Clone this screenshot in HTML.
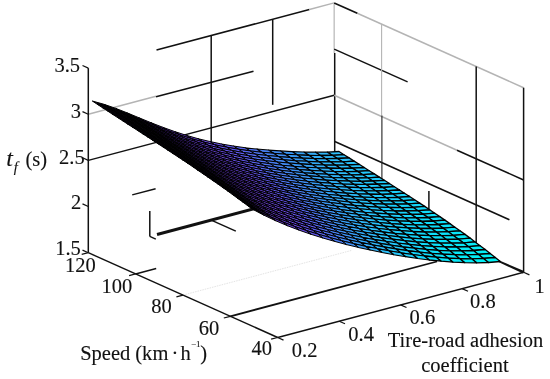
<!DOCTYPE html>
<html><head><meta charset="utf-8"><title>tf surface</title>
<style>html,body{margin:0;padding:0;background:#fff;}svg{display:block;}</style></head>
<body><svg width="550" height="379" viewBox="0 0 550 379" font-family="'Liberation Serif', serif" fill="#111" stroke-linecap="butt">
<style>text{stroke:#111;stroke-width:0.12px;}</style>
<line x1="156.5" y1="50.0" x2="309.4" y2="9.5" stroke="#111" stroke-width="1.5" />
<line x1="309.4" y1="9.5" x2="334.2" y2="2.9" stroke="#b4b4b4" stroke-width="1.5" />
<line x1="88.3" y1="114.2" x2="156.0" y2="96.3" stroke="#b4b4b4" stroke-width="1.5" />
<line x1="156.0" y1="96.7" x2="253.5" y2="71.2" stroke="#111" stroke-width="1.5" />
<line x1="88.3" y1="160.4" x2="334.2" y2="95.2" stroke="#111" stroke-width="1.5" />
<line x1="132.2" y1="194.9" x2="155.6" y2="188.7" stroke="#111" stroke-width="1.5" />
<line x1="157.0" y1="234.5" x2="256.0" y2="208.2" stroke="#111" stroke-width="2.9" />
<line x1="149.8" y1="211.0" x2="149.8" y2="236.4" stroke="#111" stroke-width="1.5" />
<line x1="149.8" y1="236.4" x2="155.8" y2="239.1" stroke="#111" stroke-width="1.5" />
<line x1="211.2" y1="35.5" x2="211.2" y2="150.0" stroke="#111" stroke-width="1.5" />
<line x1="211.2" y1="220.1" x2="235.8" y2="231.1" stroke="#111" stroke-width="1.5" />
<line x1="272.7" y1="19.2" x2="272.7" y2="104.8" stroke="#111" stroke-width="1.5" />
<line x1="334.2" y1="2.9" x2="334.2" y2="53.0" stroke="#c4c4c4" stroke-width="1.5" />
<line x1="334.7" y1="53.0" x2="334.7" y2="160.0" stroke="#111" stroke-width="1.5" />
<line x1="357.3" y1="13.2" x2="523.6" y2="87.7" stroke="#b4b4b4" stroke-width="1.5" />
<line x1="334.2" y1="2.9" x2="357.3" y2="13.2" stroke="#111" stroke-width="1.6" />
<line x1="334.2" y1="49.1" x2="407.6" y2="81.9" stroke="#111" stroke-width="1.5" />
<line x1="334.2" y1="95.2" x2="457.0" y2="150.2" stroke="#b4b4b4" stroke-width="1.5" />
<line x1="457.0" y1="150.2" x2="523.6" y2="180.0" stroke="#111" stroke-width="1.5" />
<line x1="334.2" y1="141.3" x2="509.4" y2="219.8" stroke="#111" stroke-width="1.6" />
<polygon points="493.7,259.8 523.1,273.5 524.1,271.1 494.3,258.3" fill="#111"/>
<line x1="381.6" y1="24.1" x2="381.6" y2="115.5" stroke="#b4b4b4" stroke-width="1.1" />
<line x1="381.9" y1="115.5" x2="381.9" y2="185.0" stroke="#222" stroke-width="1.1" />
<line x1="428.9" y1="191.0" x2="428.9" y2="215.0" stroke="#111" stroke-width="1.5" />
<line x1="476.2" y1="66.5" x2="476.2" y2="245.0" stroke="#111" stroke-width="1.5" />
<line x1="523.6" y1="87.7" x2="523.6" y2="272.3" stroke="#111" stroke-width="1.5" />
<line x1="230.3" y1="316.3" x2="437.0" y2="261.5" stroke="#111" stroke-width="1.75" />
<line x1="183.0" y1="295.1" x2="352.0" y2="250.3" stroke="#e4e4e4" stroke-width="1.0" stroke-dasharray="1.5 1"/>
<line x1="135.6" y1="273.9" x2="156.2" y2="268.5" stroke="#111" stroke-width="1.5" />
<g stroke="#000" stroke-linejoin="round"><path d="M327.3 152.1 L339.0 151.5 L344.0 154.7 L332.3 155.3Z" fill="rgb(45,189,249)" stroke-width="1.30"/><path d="M315.5 152.2 L327.3 152.1 L332.3 155.3 L320.5 155.5Z" fill="rgb(47,181,248)" stroke-width="1.26"/><path d="M303.8 152.0 L315.5 152.2 L320.5 155.5 L308.8 155.3Z" fill="rgb(50,171,247)" stroke-width="1.21"/><path d="M292.0 151.6 L303.8 152.0 L308.8 155.3 L297.0 154.8Z" fill="rgb(53,161,245)" stroke-width="1.17"/><path d="M280.3 150.9 L292.0 151.6 L297.0 154.8 L285.3 154.2Z" fill="rgb(58,151,244)" stroke-width="1.13"/><path d="M268.5 150.1 L280.3 150.9 L285.3 154.2 L273.5 153.3Z" fill="rgb(65,139,243)" stroke-width="1.10"/><path d="M256.8 149.0 L268.5 150.1 L273.5 153.3 L261.8 152.3Z" fill="rgb(72,128,242)" stroke-width="1.05"/><path d="M245.0 147.7 L256.8 149.0 L261.8 152.3 L250.0 150.9Z" fill="rgb(79,115,241)" stroke-width="1.01"/><path d="M233.3 146.0 L245.0 147.7 L250.0 150.9 L238.3 149.2Z" fill="rgb(88,100,239)" stroke-width="1.00"/><path d="M221.5 144.0 L233.3 146.0 L238.3 149.2 L226.5 147.2Z" fill="rgb(96,86,236)" stroke-width="1.00"/><path d="M209.8 141.5 L221.5 144.0 L226.5 147.2 L214.8 144.8Z" fill="rgb(103,78,231)" stroke-width="1.00"/><path d="M198.0 138.7 L209.8 141.5 L214.8 144.8 L203.0 141.9Z" fill="rgb(107,70,224)" stroke-width="1.00"/><path d="M186.3 135.3 L198.0 138.7 L203.0 141.9 L191.3 138.6Z" fill="rgb(104,63,212)" stroke-width="1.00"/><path d="M174.5 131.5 L186.3 135.3 L191.3 138.6 L179.5 134.8Z" fill="rgb(99,56,199)" stroke-width="1.00"/><path d="M162.8 127.3 L174.5 131.5 L179.5 134.8 L167.8 130.6Z" fill="rgb(95,51,188)" stroke-width="1.00"/><path d="M151.0 122.7 L162.8 127.3 L167.8 130.6 L156.0 126.0Z" fill="rgb(71,37,143)" stroke-width="1.00"/><path d="M139.3 117.9 L151.0 122.7 L156.0 126.0 L144.3 121.3Z" fill="rgb(43,21,87)" stroke-width="1.00"/><path d="M127.5 113.0 L139.3 117.9 L144.3 121.3 L132.5 116.4Z" fill="rgb(17,8,35)" stroke-width="1.00"/><path d="M115.8 108.4 L127.5 113.0 L132.5 116.4 L120.8 111.8Z" fill="rgb(7,3,16)" stroke-width="1.00"/><path d="M104.0 104.3 L115.8 108.4 L120.8 111.8 L109.0 107.6Z" fill="rgb(7,3,15)" stroke-width="1.00"/><path d="M92.3 101.0 L104.0 104.3 L109.0 107.6 L97.3 104.3Z" fill="rgb(6,2,14)" stroke-width="1.00"/><path d="M332.3 155.3 L344.0 154.7 L349.1 157.9 L337.3 158.5Z" fill="rgb(43,191,250)" stroke-width="1.30"/><path d="M320.5 155.5 L332.3 155.3 L337.3 158.5 L325.6 158.7Z" fill="rgb(46,184,249)" stroke-width="1.26"/><path d="M308.8 155.3 L320.5 155.5 L325.6 158.7 L313.8 158.5Z" fill="rgb(49,174,247)" stroke-width="1.21"/><path d="M297.0 154.8 L308.8 155.3 L313.8 158.5 L302.1 158.1Z" fill="rgb(52,164,246)" stroke-width="1.17"/><path d="M285.3 154.2 L297.0 154.8 L302.1 158.1 L290.3 157.5Z" fill="rgb(57,154,244)" stroke-width="1.13"/><path d="M273.5 153.3 L285.3 154.2 L290.3 157.5 L278.6 156.6Z" fill="rgb(63,142,243)" stroke-width="1.09"/><path d="M261.8 152.3 L273.5 153.3 L278.6 156.6 L266.8 155.5Z" fill="rgb(70,130,242)" stroke-width="1.05"/><path d="M250.0 150.9 L261.8 152.3 L266.8 155.5 L255.1 154.1Z" fill="rgb(77,118,242)" stroke-width="1.00"/><path d="M238.3 149.2 L250.0 150.9 L255.1 154.1 L243.3 152.5Z" fill="rgb(86,103,240)" stroke-width="1.00"/><path d="M226.5 147.2 L238.3 149.2 L243.3 152.5 L231.6 150.4Z" fill="rgb(95,87,237)" stroke-width="1.00"/><path d="M214.8 144.8 L226.5 147.2 L231.6 150.4 L219.8 148.0Z" fill="rgb(101,79,232)" stroke-width="1.00"/><path d="M203.0 141.9 L214.8 144.8 L219.8 148.0 L208.0 145.2Z" fill="rgb(107,71,226)" stroke-width="1.00"/><path d="M191.3 138.6 L203.0 141.9 L208.0 145.2 L196.3 141.8Z" fill="rgb(105,64,214)" stroke-width="1.00"/><path d="M179.5 134.8 L191.3 138.6 L196.3 141.8 L184.5 138.1Z" fill="rgb(100,57,201)" stroke-width="1.00"/><path d="M167.8 130.6 L179.5 134.8 L184.5 138.1 L172.8 133.9Z" fill="rgb(95,51,189)" stroke-width="1.00"/><path d="M156.0 126.0 L167.8 130.6 L172.8 133.9 L161.0 129.4Z" fill="rgb(75,39,149)" stroke-width="1.00"/><path d="M144.3 121.3 L156.0 126.0 L161.0 129.4 L149.3 124.7Z" fill="rgb(45,22,92)" stroke-width="1.00"/><path d="M132.5 116.4 L144.3 121.3 L149.3 124.7 L137.5 119.9Z" fill="rgb(19,9,39)" stroke-width="1.00"/><path d="M120.8 111.8 L132.5 116.4 L137.5 119.9 L125.8 115.2Z" fill="rgb(7,3,16)" stroke-width="1.00"/><path d="M109.0 107.6 L120.8 111.8 L125.8 115.2 L114.0 111.0Z" fill="rgb(7,3,15)" stroke-width="1.00"/><path d="M97.3 104.3 L109.0 107.6 L114.0 111.0 L102.3 107.6Z" fill="rgb(7,2,14)" stroke-width="1.00"/><path d="M337.3 158.5 L349.1 157.9 L354.1 161.1 L342.4 161.8Z" fill="rgb(42,192,250)" stroke-width="1.30"/><path d="M325.6 158.7 L337.3 158.5 L342.4 161.8 L330.6 161.9Z" fill="rgb(45,187,249)" stroke-width="1.25"/><path d="M313.8 158.5 L325.6 158.7 L330.6 161.9 L318.9 161.8Z" fill="rgb(48,177,248)" stroke-width="1.20"/><path d="M302.1 158.1 L313.8 158.5 L318.9 161.8 L307.1 161.3Z" fill="rgb(51,167,246)" stroke-width="1.16"/><path d="M290.3 157.5 L302.1 158.1 L307.1 161.3 L295.3 160.7Z" fill="rgb(55,156,244)" stroke-width="1.12"/><path d="M278.6 156.6 L290.3 157.5 L295.3 160.7 L283.6 159.8Z" fill="rgb(62,145,244)" stroke-width="1.09"/><path d="M266.8 155.5 L278.6 156.6 L283.6 159.8 L271.8 158.7Z" fill="rgb(68,133,243)" stroke-width="1.04"/><path d="M255.1 154.1 L266.8 155.5 L271.8 158.7 L260.1 157.4Z" fill="rgb(76,121,242)" stroke-width="1.00"/><path d="M243.3 152.5 L255.1 154.1 L260.1 157.4 L248.3 155.7Z" fill="rgb(84,106,240)" stroke-width="1.00"/><path d="M231.6 150.4 L243.3 152.5 L248.3 155.7 L236.6 153.7Z" fill="rgb(93,90,238)" stroke-width="1.00"/><path d="M219.8 148.0 L231.6 150.4 L236.6 153.7 L224.8 151.2Z" fill="rgb(100,81,233)" stroke-width="1.00"/><path d="M208.0 145.2 L219.8 148.0 L224.8 151.2 L213.1 148.4Z" fill="rgb(107,72,228)" stroke-width="1.00"/><path d="M196.3 141.8 L208.0 145.2 L213.1 148.4 L201.3 145.1Z" fill="rgb(105,65,216)" stroke-width="1.00"/><path d="M184.5 138.1 L196.3 141.8 L201.3 145.1 L189.5 141.4Z" fill="rgb(101,58,203)" stroke-width="1.00"/><path d="M172.8 133.9 L184.5 138.1 L189.5 141.4 L177.8 137.2Z" fill="rgb(96,52,190)" stroke-width="1.00"/><path d="M161.0 129.4 L172.8 133.9 L177.8 137.2 L166.0 132.7Z" fill="rgb(78,41,156)" stroke-width="1.00"/><path d="M149.3 124.7 L161.0 129.4 L166.0 132.7 L154.3 128.0Z" fill="rgb(48,24,98)" stroke-width="1.00"/><path d="M137.5 119.9 L149.3 124.7 L154.3 128.0 L142.5 123.2Z" fill="rgb(21,10,43)" stroke-width="1.00"/><path d="M125.8 115.2 L137.5 119.9 L142.5 123.2 L130.8 118.6Z" fill="rgb(7,3,16)" stroke-width="1.00"/><path d="M114.0 111.0 L125.8 115.2 L130.8 118.6 L119.0 114.3Z" fill="rgb(7,3,15)" stroke-width="1.00"/><path d="M102.3 107.6 L114.0 111.0 L119.0 114.3 L107.3 110.8Z" fill="rgb(7,2,14)" stroke-width="1.00"/><path d="M342.4 161.8 L354.1 161.1 L359.2 164.3 L347.4 165.0Z" fill="rgb(40,194,250)" stroke-width="1.30"/><path d="M330.6 161.9 L342.4 161.8 L347.4 165.0 L335.6 165.2Z" fill="rgb(44,190,250)" stroke-width="1.25"/><path d="M318.9 161.8 L330.6 161.9 L335.6 165.2 L323.9 165.0Z" fill="rgb(47,180,248)" stroke-width="1.20"/><path d="M307.1 161.3 L318.9 161.8 L323.9 165.0 L312.1 164.6Z" fill="rgb(50,170,247)" stroke-width="1.16"/><path d="M295.3 160.7 L307.1 161.3 L312.1 164.6 L300.4 163.9Z" fill="rgb(54,159,245)" stroke-width="1.12"/><path d="M283.6 159.8 L295.3 160.7 L300.4 163.9 L288.6 163.0Z" fill="rgb(60,148,244)" stroke-width="1.08"/><path d="M271.8 158.7 L283.6 159.8 L288.6 163.0 L276.9 161.9Z" fill="rgb(67,136,243)" stroke-width="1.04"/><path d="M260.1 157.4 L271.8 158.7 L276.9 161.9 L265.1 160.6Z" fill="rgb(74,124,242)" stroke-width="1.00"/><path d="M248.3 155.7 L260.1 157.4 L265.1 160.6 L253.3 158.9Z" fill="rgb(82,109,240)" stroke-width="1.00"/><path d="M236.6 153.7 L248.3 155.7 L253.3 158.9 L241.6 156.9Z" fill="rgb(91,93,238)" stroke-width="1.00"/><path d="M224.8 151.2 L236.6 153.7 L241.6 156.9 L229.8 154.4Z" fill="rgb(99,82,234)" stroke-width="1.00"/><path d="M213.1 148.4 L224.8 151.2 L229.8 154.4 L218.1 151.6Z" fill="rgb(106,73,229)" stroke-width="1.00"/><path d="M201.3 145.1 L213.1 148.4 L218.1 151.6 L206.3 148.3Z" fill="rgb(105,66,218)" stroke-width="1.00"/><path d="M189.5 141.4 L201.3 145.1 L206.3 148.3 L194.6 144.6Z" fill="rgb(102,59,205)" stroke-width="1.00"/><path d="M177.8 137.2 L189.5 141.4 L194.6 144.6 L182.8 140.5Z" fill="rgb(97,53,192)" stroke-width="1.00"/><path d="M166.0 132.7 L177.8 137.2 L182.8 140.5 L171.0 136.1Z" fill="rgb(82,43,164)" stroke-width="1.00"/><path d="M154.3 128.0 L166.0 132.7 L171.0 136.1 L159.3 131.4Z" fill="rgb(51,26,104)" stroke-width="1.00"/><path d="M142.5 123.2 L154.3 128.0 L159.3 131.4 L147.5 126.6Z" fill="rgb(23,11,48)" stroke-width="1.00"/><path d="M130.8 118.6 L142.5 123.2 L147.5 126.6 L135.8 122.0Z" fill="rgb(7,3,16)" stroke-width="1.00"/><path d="M119.0 114.3 L130.8 118.6 L135.8 122.0 L124.0 117.7Z" fill="rgb(7,3,15)" stroke-width="1.00"/><path d="M107.3 110.8 L119.0 114.3 L124.0 117.7 L112.2 114.1Z" fill="rgb(7,2,15)" stroke-width="1.00"/><path d="M347.4 165.0 L359.2 164.3 L364.2 167.5 L352.4 168.2Z" fill="rgb(39,196,250)" stroke-width="1.30"/><path d="M335.6 165.2 L347.4 165.0 L352.4 168.2 L340.7 168.4Z" fill="rgb(43,191,250)" stroke-width="1.25"/><path d="M323.9 165.0 L335.6 165.2 L340.7 168.4 L328.9 168.2Z" fill="rgb(46,183,249)" stroke-width="1.20"/><path d="M312.1 164.6 L323.9 165.0 L328.9 168.2 L317.2 167.8Z" fill="rgb(50,173,247)" stroke-width="1.16"/><path d="M300.4 163.9 L312.1 164.6 L317.2 167.8 L305.4 167.2Z" fill="rgb(53,162,245)" stroke-width="1.12"/><path d="M288.6 163.0 L300.4 163.9 L305.4 167.2 L293.6 166.3Z" fill="rgb(58,151,244)" stroke-width="1.08"/><path d="M276.9 161.9 L288.6 163.0 L293.6 166.3 L281.9 165.2Z" fill="rgb(65,139,243)" stroke-width="1.04"/><path d="M265.1 160.6 L276.9 161.9 L281.9 165.2 L270.1 163.8Z" fill="rgb(72,126,242)" stroke-width="1.00"/><path d="M253.3 158.9 L265.1 160.6 L270.1 163.8 L258.4 162.1Z" fill="rgb(80,112,241)" stroke-width="1.00"/><path d="M241.6 156.9 L253.3 158.9 L258.4 162.1 L246.6 160.1Z" fill="rgb(90,96,239)" stroke-width="1.00"/><path d="M229.8 154.4 L241.6 156.9 L246.6 160.1 L234.8 157.7Z" fill="rgb(98,84,235)" stroke-width="1.00"/><path d="M218.1 151.6 L229.8 154.4 L234.8 157.7 L223.1 154.8Z" fill="rgb(105,75,230)" stroke-width="1.00"/><path d="M206.3 148.3 L218.1 151.6 L223.1 154.8 L211.3 151.6Z" fill="rgb(106,67,220)" stroke-width="1.00"/><path d="M194.6 144.6 L206.3 148.3 L211.3 151.6 L199.6 147.9Z" fill="rgb(103,60,207)" stroke-width="1.00"/><path d="M182.8 140.5 L194.6 144.6 L199.6 147.9 L187.8 143.8Z" fill="rgb(97,54,194)" stroke-width="1.00"/><path d="M171.0 136.1 L182.8 140.5 L187.8 143.8 L176.0 139.4Z" fill="rgb(86,45,171)" stroke-width="1.00"/><path d="M159.3 131.4 L171.0 136.1 L176.0 139.4 L164.3 134.8Z" fill="rgb(54,27,110)" stroke-width="1.00"/><path d="M147.5 126.6 L159.3 131.4 L164.3 134.8 L152.5 130.0Z" fill="rgb(26,12,53)" stroke-width="1.00"/><path d="M135.8 122.0 L147.5 126.6 L152.5 130.0 L140.8 125.3Z" fill="rgb(8,3,16)" stroke-width="1.00"/><path d="M124.0 117.7 L135.8 122.0 L140.8 125.3 L129.0 121.0Z" fill="rgb(7,3,15)" stroke-width="1.00"/><path d="M112.2 114.1 L124.0 117.7 L129.0 121.0 L117.2 117.3Z" fill="rgb(7,2,15)" stroke-width="1.00"/><path d="M352.4 168.2 L364.2 167.5 L369.2 170.7 L357.5 171.4Z" fill="rgb(37,197,250)" stroke-width="1.30"/><path d="M340.7 168.4 L352.4 168.2 L357.5 171.4 L345.7 171.6Z" fill="rgb(41,193,250)" stroke-width="1.26"/><path d="M328.9 168.2 L340.7 168.4 L345.7 171.6 L334.0 171.5Z" fill="rgb(45,186,249)" stroke-width="1.20"/><path d="M317.2 167.8 L328.9 168.2 L334.0 171.5 L322.2 171.0Z" fill="rgb(49,176,247)" stroke-width="1.16"/><path d="M305.4 167.2 L317.2 167.8 L322.2 171.0 L310.4 170.4Z" fill="rgb(52,165,246)" stroke-width="1.12"/><path d="M293.6 166.3 L305.4 167.2 L310.4 170.4 L298.7 169.5Z" fill="rgb(57,154,244)" stroke-width="1.08"/><path d="M281.9 165.2 L293.6 166.3 L298.7 169.5 L286.9 168.4Z" fill="rgb(63,142,243)" stroke-width="1.03"/><path d="M270.1 163.8 L281.9 165.2 L286.9 168.4 L275.1 167.0Z" fill="rgb(71,129,242)" stroke-width="1.00"/><path d="M258.4 162.1 L270.1 163.8 L275.1 167.0 L263.4 165.3Z" fill="rgb(79,116,241)" stroke-width="1.00"/><path d="M246.6 160.1 L258.4 162.1 L263.4 165.3 L251.6 163.3Z" fill="rgb(88,99,239)" stroke-width="1.00"/><path d="M234.8 157.7 L246.6 160.1 L251.6 163.3 L239.9 160.9Z" fill="rgb(97,85,236)" stroke-width="1.00"/><path d="M223.1 154.8 L234.8 157.7 L239.9 160.9 L228.1 158.0Z" fill="rgb(104,76,231)" stroke-width="1.00"/><path d="M211.3 151.6 L223.1 154.8 L228.1 158.0 L216.3 154.8Z" fill="rgb(106,68,222)" stroke-width="1.00"/><path d="M199.6 147.9 L211.3 151.6 L216.3 154.8 L204.6 151.2Z" fill="rgb(103,61,209)" stroke-width="1.00"/><path d="M187.8 143.8 L199.6 147.9 L204.6 151.2 L192.8 147.1Z" fill="rgb(98,55,196)" stroke-width="1.00"/><path d="M176.0 139.4 L187.8 143.8 L192.8 147.1 L181.0 142.7Z" fill="rgb(90,48,179)" stroke-width="1.00"/><path d="M164.3 134.8 L176.0 139.4 L181.0 142.7 L169.3 138.1Z" fill="rgb(58,29,116)" stroke-width="1.00"/><path d="M152.5 130.0 L164.3 134.8 L169.3 138.1 L157.5 133.4Z" fill="rgb(28,13,57)" stroke-width="1.00"/><path d="M140.8 125.3 L152.5 130.0 L157.5 133.4 L145.8 128.7Z" fill="rgb(8,3,16)" stroke-width="1.00"/><path d="M129.0 121.0 L140.8 125.3 L145.8 128.7 L134.0 124.3Z" fill="rgb(7,3,15)" stroke-width="1.00"/><path d="M117.2 117.3 L129.0 121.0 L134.0 124.3 L122.2 120.5Z" fill="rgb(7,2,15)" stroke-width="1.00"/><path d="M357.5 171.4 L369.2 170.7 L374.3 173.9 L362.5 174.6Z" fill="rgb(36,199,250)" stroke-width="1.30"/><path d="M345.7 171.6 L357.5 171.4 L362.5 174.6 L350.8 174.8Z" fill="rgb(40,194,250)" stroke-width="1.26"/><path d="M334.0 171.5 L345.7 171.6 L350.8 174.8 L339.0 174.7Z" fill="rgb(45,189,249)" stroke-width="1.20"/><path d="M322.2 171.0 L334.0 171.5 L339.0 174.7 L327.2 174.3Z" fill="rgb(48,179,248)" stroke-width="1.16"/><path d="M310.4 170.4 L322.2 171.0 L327.2 174.3 L315.5 173.6Z" fill="rgb(51,168,246)" stroke-width="1.12"/><path d="M298.7 169.5 L310.4 170.4 L315.5 173.6 L303.7 172.7Z" fill="rgb(55,157,244)" stroke-width="1.08"/><path d="M286.9 168.4 L298.7 169.5 L303.7 172.7 L291.9 171.6Z" fill="rgb(62,145,244)" stroke-width="1.03"/><path d="M275.1 167.0 L286.9 168.4 L291.9 171.6 L280.2 170.2Z" fill="rgb(69,132,243)" stroke-width="1.00"/><path d="M263.4 165.3 L275.1 167.0 L280.2 170.2 L268.4 168.5Z" fill="rgb(77,119,242)" stroke-width="1.00"/><path d="M251.6 163.3 L263.4 165.3 L268.4 168.5 L256.6 166.4Z" fill="rgb(86,102,239)" stroke-width="1.00"/><path d="M239.9 160.9 L251.6 163.3 L256.6 166.4 L244.9 164.1Z" fill="rgb(95,86,237)" stroke-width="1.00"/><path d="M228.1 158.0 L239.9 160.9 L244.9 164.1 L233.1 161.3Z" fill="rgb(102,78,231)" stroke-width="1.00"/><path d="M216.3 154.8 L228.1 158.0 L233.1 161.3 L221.3 158.1Z" fill="rgb(107,69,224)" stroke-width="1.00"/><path d="M204.6 151.2 L216.3 154.8 L221.3 158.1 L209.6 154.4Z" fill="rgb(104,62,211)" stroke-width="1.00"/><path d="M192.8 147.1 L204.6 151.2 L209.6 154.4 L197.8 150.4Z" fill="rgb(99,56,198)" stroke-width="1.00"/><path d="M181.0 142.7 L192.8 147.1 L197.8 150.4 L186.0 146.1Z" fill="rgb(94,50,187)" stroke-width="1.00"/><path d="M169.3 138.1 L181.0 142.7 L186.0 146.1 L174.3 141.5Z" fill="rgb(61,31,123)" stroke-width="1.00"/><path d="M157.5 133.4 L169.3 138.1 L174.3 141.5 L162.5 136.7Z" fill="rgb(31,15,63)" stroke-width="1.00"/><path d="M145.8 128.7 L157.5 133.4 L162.5 136.7 L150.7 132.1Z" fill="rgb(8,3,16)" stroke-width="1.00"/><path d="M134.0 124.3 L145.8 128.7 L150.7 132.1 L139.0 127.6Z" fill="rgb(7,3,16)" stroke-width="1.00"/><path d="M122.2 120.5 L134.0 124.3 L139.0 127.6 L127.2 123.8Z" fill="rgb(7,3,15)" stroke-width="1.00"/><path d="M362.5 174.6 L374.3 173.9 L379.3 177.1 L367.6 177.8Z" fill="rgb(34,200,250)" stroke-width="1.30"/><path d="M350.8 174.8 L362.5 174.6 L367.6 177.8 L355.8 178.0Z" fill="rgb(38,196,250)" stroke-width="1.26"/><path d="M339.0 174.7 L350.8 174.8 L355.8 178.0 L344.0 177.9Z" fill="rgb(43,191,250)" stroke-width="1.21"/><path d="M327.2 174.3 L339.0 174.7 L344.0 177.9 L332.3 177.5Z" fill="rgb(47,182,248)" stroke-width="1.16"/><path d="M315.5 173.6 L327.2 174.3 L332.3 177.5 L320.5 176.8Z" fill="rgb(50,171,247)" stroke-width="1.12"/><path d="M303.7 172.7 L315.5 173.6 L320.5 176.8 L308.7 175.9Z" fill="rgb(54,160,245)" stroke-width="1.07"/><path d="M291.9 171.6 L303.7 172.7 L308.7 175.9 L296.9 174.8Z" fill="rgb(60,148,244)" stroke-width="1.03"/><path d="M280.2 170.2 L291.9 171.6 L296.9 174.8 L285.2 173.4Z" fill="rgb(68,135,243)" stroke-width="1.00"/><path d="M268.4 168.5 L280.2 170.2 L285.2 173.4 L273.4 171.7Z" fill="rgb(75,121,242)" stroke-width="1.00"/><path d="M256.6 166.4 L268.4 168.5 L273.4 171.7 L261.6 169.6Z" fill="rgb(84,106,240)" stroke-width="1.00"/><path d="M244.9 164.1 L256.6 166.4 L261.6 169.6 L249.9 167.3Z" fill="rgb(94,88,238)" stroke-width="1.00"/><path d="M233.1 161.3 L244.9 164.1 L249.9 167.3 L238.1 164.5Z" fill="rgb(101,79,232)" stroke-width="1.00"/><path d="M221.3 158.1 L233.1 161.3 L238.1 164.5 L226.3 161.3Z" fill="rgb(107,71,226)" stroke-width="1.00"/><path d="M209.6 154.4 L221.3 158.1 L226.3 161.3 L214.6 157.7Z" fill="rgb(104,63,213)" stroke-width="1.00"/><path d="M197.8 150.4 L209.6 154.4 L214.6 157.7 L202.8 153.7Z" fill="rgb(100,57,200)" stroke-width="1.00"/><path d="M186.0 146.1 L197.8 150.4 L202.8 153.7 L191.0 149.4Z" fill="rgb(95,51,188)" stroke-width="1.00"/><path d="M174.3 141.5 L186.0 146.1 L191.0 149.4 L179.3 144.8Z" fill="rgb(65,33,130)" stroke-width="1.00"/><path d="M162.5 136.7 L174.3 141.5 L179.3 144.8 L167.5 140.1Z" fill="rgb(33,16,68)" stroke-width="1.00"/><path d="M150.7 132.1 L162.5 136.7 L167.5 140.1 L155.7 135.4Z" fill="rgb(8,3,16)" stroke-width="1.00"/><path d="M139.0 127.6 L150.7 132.1 L155.7 135.4 L144.0 131.0Z" fill="rgb(7,3,16)" stroke-width="1.00"/><path d="M127.2 123.8 L139.0 127.6 L144.0 131.0 L132.2 127.0Z" fill="rgb(7,3,15)" stroke-width="1.00"/><path d="M367.6 177.8 L379.3 177.1 L384.4 180.3 L372.6 181.0Z" fill="rgb(33,202,250)" stroke-width="1.30"/><path d="M355.8 178.0 L367.6 177.8 L372.6 181.0 L360.8 181.3Z" fill="rgb(37,198,250)" stroke-width="1.27"/><path d="M344.0 177.9 L355.8 178.0 L360.8 181.3 L349.1 181.1Z" fill="rgb(42,193,250)" stroke-width="1.21"/><path d="M332.3 177.5 L344.0 177.9 L349.1 181.1 L337.3 180.7Z" fill="rgb(46,185,249)" stroke-width="1.16"/><path d="M320.5 176.8 L332.3 177.5 L337.3 180.7 L325.5 180.1Z" fill="rgb(49,174,247)" stroke-width="1.12"/><path d="M308.7 175.9 L320.5 176.8 L325.5 180.1 L313.7 179.1Z" fill="rgb(53,163,245)" stroke-width="1.08"/><path d="M296.9 174.8 L308.7 175.9 L313.7 179.1 L302.0 178.0Z" fill="rgb(59,150,244)" stroke-width="1.03"/><path d="M285.2 173.4 L296.9 174.8 L302.0 178.0 L290.2 176.6Z" fill="rgb(66,138,243)" stroke-width="1.00"/><path d="M273.4 171.7 L285.2 173.4 L290.2 176.6 L278.4 174.9Z" fill="rgb(74,124,242)" stroke-width="1.00"/><path d="M261.6 169.6 L273.4 171.7 L278.4 174.9 L266.7 172.8Z" fill="rgb(82,109,240)" stroke-width="1.00"/><path d="M249.9 167.3 L261.6 169.6 L266.7 172.8 L254.9 170.5Z" fill="rgb(92,91,238)" stroke-width="1.00"/><path d="M238.1 164.5 L249.9 167.3 L254.9 170.5 L243.1 167.7Z" fill="rgb(100,81,233)" stroke-width="1.00"/><path d="M226.3 161.3 L238.1 164.5 L243.1 167.7 L231.4 164.5Z" fill="rgb(107,72,228)" stroke-width="1.00"/><path d="M214.6 157.7 L226.3 161.3 L231.4 164.5 L219.6 160.9Z" fill="rgb(105,65,215)" stroke-width="1.00"/><path d="M202.8 153.7 L214.6 157.7 L219.6 160.9 L207.8 157.0Z" fill="rgb(100,58,202)" stroke-width="1.00"/><path d="M191.0 149.4 L202.8 153.7 L207.8 157.0 L196.0 152.7Z" fill="rgb(95,51,189)" stroke-width="1.00"/><path d="M179.3 144.8 L191.0 149.4 L196.0 152.7 L184.3 148.2Z" fill="rgb(68,35,137)" stroke-width="1.00"/><path d="M167.5 140.1 L179.3 144.8 L184.3 148.2 L172.5 143.5Z" fill="rgb(36,18,73)" stroke-width="1.00"/><path d="M155.7 135.4 L167.5 140.1 L172.5 143.5 L160.7 138.8Z" fill="rgb(8,3,16)" stroke-width="1.00"/><path d="M144.0 131.0 L155.7 135.4 L160.7 138.8 L149.0 134.3Z" fill="rgb(7,3,16)" stroke-width="1.00"/><path d="M132.2 127.0 L144.0 131.0 L149.0 134.3 L137.2 130.2Z" fill="rgb(7,3,15)" stroke-width="1.00"/><path d="M372.6 181.0 L384.4 180.3 L389.4 183.5 L377.6 184.2Z" fill="rgb(32,203,250)" stroke-width="1.30"/><path d="M360.8 181.3 L372.6 181.0 L377.6 184.2 L365.9 184.5Z" fill="rgb(35,199,250)" stroke-width="1.27"/><path d="M349.1 181.1 L360.8 181.3 L365.9 184.5 L354.1 184.4Z" fill="rgb(40,194,250)" stroke-width="1.21"/><path d="M337.3 180.7 L349.1 181.1 L354.1 184.4 L342.3 184.0Z" fill="rgb(45,188,249)" stroke-width="1.16"/><path d="M325.5 180.1 L337.3 180.7 L342.3 184.0 L330.5 183.3Z" fill="rgb(48,177,248)" stroke-width="1.12"/><path d="M313.7 179.1 L325.5 180.1 L330.5 183.3 L318.8 182.4Z" fill="rgb(52,166,246)" stroke-width="1.08"/><path d="M302.0 178.0 L313.7 179.1 L318.8 182.4 L307.0 181.2Z" fill="rgb(57,153,244)" stroke-width="1.03"/><path d="M290.2 176.6 L302.0 178.0 L307.0 181.2 L295.2 179.8Z" fill="rgb(64,141,243)" stroke-width="1.00"/><path d="M278.4 174.9 L290.2 176.6 L295.2 179.8 L283.4 178.1Z" fill="rgb(72,127,242)" stroke-width="1.00"/><path d="M266.7 172.8 L278.4 174.9 L283.4 178.1 L271.7 176.0Z" fill="rgb(81,112,241)" stroke-width="1.00"/><path d="M254.9 170.5 L266.7 172.8 L271.7 176.0 L259.9 173.7Z" fill="rgb(91,95,238)" stroke-width="1.00"/><path d="M243.1 167.7 L254.9 170.5 L259.9 173.7 L248.1 170.9Z" fill="rgb(99,82,234)" stroke-width="1.00"/><path d="M231.4 164.5 L243.1 167.7 L248.1 170.9 L236.4 167.8Z" fill="rgb(106,73,229)" stroke-width="1.00"/><path d="M219.6 160.9 L231.4 164.5 L236.4 167.8 L224.6 164.2Z" fill="rgb(105,66,217)" stroke-width="1.00"/><path d="M207.8 157.0 L219.6 160.9 L224.6 164.2 L212.8 160.3Z" fill="rgb(101,59,204)" stroke-width="1.00"/><path d="M196.0 152.7 L207.8 157.0 L212.8 160.3 L201.0 156.0Z" fill="rgb(96,52,190)" stroke-width="1.00"/><path d="M184.3 148.2 L196.0 152.7 L201.0 156.0 L189.3 151.5Z" fill="rgb(72,38,145)" stroke-width="1.00"/><path d="M172.5 143.5 L184.3 148.2 L189.3 151.5 L177.5 146.8Z" fill="rgb(39,19,79)" stroke-width="1.00"/><path d="M160.7 138.8 L172.5 143.5 L177.5 146.8 L165.7 142.1Z" fill="rgb(9,4,19)" stroke-width="1.00"/><path d="M149.0 134.3 L160.7 138.8 L165.7 142.1 L153.9 137.6Z" fill="rgb(7,3,16)" stroke-width="1.00"/><path d="M137.2 130.2 L149.0 134.3 L153.9 137.6 L142.2 133.5Z" fill="rgb(7,3,15)" stroke-width="1.00"/><path d="M377.6 184.2 L389.4 183.5 L394.4 186.7 L382.7 187.5Z" fill="rgb(30,205,250)" stroke-width="1.30"/><path d="M365.9 184.5 L377.6 184.2 L382.7 187.5 L370.9 187.7Z" fill="rgb(34,201,250)" stroke-width="1.28"/><path d="M354.1 184.4 L365.9 184.5 L370.9 187.7 L359.1 187.6Z" fill="rgb(39,196,250)" stroke-width="1.22"/><path d="M342.3 184.0 L354.1 184.4 L359.1 187.6 L347.3 187.2Z" fill="rgb(44,190,250)" stroke-width="1.17"/><path d="M330.5 183.3 L342.3 184.0 L347.3 187.2 L335.6 186.5Z" fill="rgb(47,180,248)" stroke-width="1.12"/><path d="M318.8 182.4 L330.5 183.3 L335.6 186.5 L323.8 185.6Z" fill="rgb(51,169,246)" stroke-width="1.08"/><path d="M307.0 181.2 L318.8 182.4 L323.8 185.6 L312.0 184.4Z" fill="rgb(55,156,244)" stroke-width="1.03"/><path d="M295.2 179.8 L307.0 181.2 L312.0 184.4 L300.2 183.0Z" fill="rgb(63,143,243)" stroke-width="1.00"/><path d="M283.4 178.1 L295.2 179.8 L300.2 183.0 L288.5 181.3Z" fill="rgb(70,130,242)" stroke-width="1.00"/><path d="M271.7 176.0 L283.4 178.1 L288.5 181.3 L276.7 179.3Z" fill="rgb(79,115,241)" stroke-width="1.00"/><path d="M259.9 173.7 L271.7 176.0 L276.7 179.3 L264.9 176.9Z" fill="rgb(89,98,239)" stroke-width="1.00"/><path d="M248.1 170.9 L259.9 173.7 L264.9 176.9 L253.1 174.1Z" fill="rgb(98,84,235)" stroke-width="1.00"/><path d="M236.4 167.8 L248.1 170.9 L253.1 174.1 L241.4 171.0Z" fill="rgb(105,75,229)" stroke-width="1.00"/><path d="M224.6 164.2 L236.4 167.8 L241.4 171.0 L229.6 167.5Z" fill="rgb(106,67,219)" stroke-width="1.00"/><path d="M212.8 160.3 L224.6 164.2 L229.6 167.5 L217.8 163.6Z" fill="rgb(102,60,206)" stroke-width="1.00"/><path d="M201.0 156.0 L212.8 160.3 L217.8 163.6 L206.0 159.4Z" fill="rgb(97,53,192)" stroke-width="1.00"/><path d="M189.3 151.5 L201.0 156.0 L206.0 159.4 L194.3 154.9Z" fill="rgb(76,40,153)" stroke-width="1.00"/><path d="M177.5 146.8 L189.3 151.5 L194.3 154.9 L182.5 150.2Z" fill="rgb(42,21,86)" stroke-width="1.00"/><path d="M165.7 142.1 L177.5 146.8 L182.5 150.2 L170.7 145.5Z" fill="rgb(11,5,23)" stroke-width="1.00"/><path d="M153.9 137.6 L165.7 142.1 L170.7 145.5 L158.9 140.9Z" fill="rgb(7,3,16)" stroke-width="1.00"/><path d="M142.2 133.5 L153.9 137.6 L158.9 140.9 L147.2 136.7Z" fill="rgb(7,3,15)" stroke-width="1.00"/><path d="M382.7 187.5 L394.4 186.7 L399.5 190.0 L387.7 190.7Z" fill="rgb(29,207,250)" stroke-width="1.30"/><path d="M370.9 187.7 L382.7 187.5 L387.7 190.7 L375.9 191.0Z" fill="rgb(32,202,250)" stroke-width="1.28"/><path d="M359.1 187.6 L370.9 187.7 L375.9 191.0 L364.2 190.9Z" fill="rgb(37,197,250)" stroke-width="1.22"/><path d="M347.3 187.2 L359.1 187.6 L364.2 190.9 L352.4 190.5Z" fill="rgb(42,192,250)" stroke-width="1.17"/><path d="M335.6 186.5 L347.3 187.2 L352.4 190.5 L340.6 189.8Z" fill="rgb(46,183,249)" stroke-width="1.13"/><path d="M323.8 185.6 L335.6 186.5 L340.6 189.8 L328.8 188.9Z" fill="rgb(50,172,247)" stroke-width="1.08"/><path d="M312.0 184.4 L323.8 185.6 L328.8 188.9 L317.0 187.7Z" fill="rgb(54,159,245)" stroke-width="1.04"/><path d="M300.2 183.0 L312.0 184.4 L317.0 187.7 L305.3 186.2Z" fill="rgb(61,146,244)" stroke-width="1.00"/><path d="M288.5 181.3 L300.2 183.0 L305.3 186.2 L293.5 184.5Z" fill="rgb(69,133,243)" stroke-width="1.00"/><path d="M276.7 179.3 L288.5 181.3 L293.5 184.5 L281.7 182.5Z" fill="rgb(77,118,242)" stroke-width="1.00"/><path d="M264.9 176.9 L276.7 179.3 L281.7 182.5 L269.9 180.1Z" fill="rgb(87,101,239)" stroke-width="1.00"/><path d="M253.1 174.1 L264.9 176.9 L269.9 180.1 L258.2 177.4Z" fill="rgb(96,85,236)" stroke-width="1.00"/><path d="M241.4 171.0 L253.1 174.1 L258.2 177.4 L246.4 174.3Z" fill="rgb(104,76,230)" stroke-width="1.00"/><path d="M229.6 167.5 L241.4 171.0 L246.4 174.3 L234.6 170.8Z" fill="rgb(106,68,221)" stroke-width="1.00"/><path d="M217.8 163.6 L229.6 167.5 L234.6 170.8 L222.8 166.9Z" fill="rgb(103,61,208)" stroke-width="1.00"/><path d="M206.0 159.4 L217.8 163.6 L222.8 166.9 L211.0 162.7Z" fill="rgb(97,54,194)" stroke-width="1.00"/><path d="M194.3 154.9 L206.0 159.4 L211.0 162.7 L199.3 158.2Z" fill="rgb(81,43,161)" stroke-width="1.00"/><path d="M182.5 150.2 L194.3 154.9 L199.3 158.2 L187.5 153.6Z" fill="rgb(46,23,92)" stroke-width="1.00"/><path d="M170.7 145.5 L182.5 150.2 L187.5 153.6 L175.7 148.9Z" fill="rgb(13,6,28)" stroke-width="1.00"/><path d="M158.9 140.9 L170.7 145.5 L175.7 148.9 L163.9 144.2Z" fill="rgb(8,3,16)" stroke-width="1.00"/><path d="M147.2 136.7 L158.9 140.9 L163.9 144.2 L152.1 139.9Z" fill="rgb(7,3,15)" stroke-width="1.00"/><path d="M387.7 190.7 L399.5 190.0 L404.5 193.2 L392.7 194.0Z" fill="rgb(27,208,250)" stroke-width="1.30"/><path d="M375.9 191.0 L387.7 190.7 L392.7 194.0 L381.0 194.3Z" fill="rgb(31,204,250)" stroke-width="1.29"/><path d="M364.2 190.9 L375.9 191.0 L381.0 194.3 L369.2 194.2Z" fill="rgb(35,199,250)" stroke-width="1.23"/><path d="M352.4 190.5 L364.2 190.9 L369.2 194.2 L357.4 193.8Z" fill="rgb(41,194,250)" stroke-width="1.18"/><path d="M340.6 189.8 L352.4 190.5 L357.4 193.8 L345.6 193.1Z" fill="rgb(45,186,249)" stroke-width="1.13"/><path d="M328.8 188.9 L340.6 189.8 L345.6 193.1 L333.8 192.1Z" fill="rgb(49,175,247)" stroke-width="1.09"/><path d="M317.0 187.7 L328.8 188.9 L333.8 192.1 L322.1 190.9Z" fill="rgb(53,162,245)" stroke-width="1.04"/><path d="M305.3 186.2 L317.0 187.7 L322.1 190.9 L310.3 189.5Z" fill="rgb(59,149,244)" stroke-width="1.00"/><path d="M293.5 184.5 L305.3 186.2 L310.3 189.5 L298.5 187.7Z" fill="rgb(67,136,243)" stroke-width="1.00"/><path d="M281.7 182.5 L293.5 184.5 L298.5 187.7 L286.7 185.7Z" fill="rgb(75,121,242)" stroke-width="1.00"/><path d="M269.9 180.1 L281.7 182.5 L286.7 185.7 L274.9 183.3Z" fill="rgb(85,104,240)" stroke-width="1.00"/><path d="M258.2 177.4 L269.9 180.1 L274.9 183.3 L263.2 180.6Z" fill="rgb(95,87,237)" stroke-width="1.00"/><path d="M246.4 174.3 L258.2 177.4 L263.2 180.6 L251.4 177.5Z" fill="rgb(102,78,231)" stroke-width="1.00"/><path d="M234.6 170.8 L246.4 174.3 L251.4 177.5 L239.6 174.1Z" fill="rgb(107,69,223)" stroke-width="1.00"/><path d="M222.8 166.9 L234.6 170.8 L239.6 174.1 L227.8 170.2Z" fill="rgb(104,62,210)" stroke-width="1.00"/><path d="M211.0 162.7 L222.8 166.9 L227.8 170.2 L216.0 166.1Z" fill="rgb(98,55,196)" stroke-width="1.00"/><path d="M199.3 158.2 L211.0 162.7 L216.0 166.1 L204.3 161.6Z" fill="rgb(85,45,170)" stroke-width="1.00"/><path d="M187.5 153.6 L199.3 158.2 L204.3 161.6 L192.5 157.0Z" fill="rgb(49,25,99)" stroke-width="1.00"/><path d="M175.7 148.9 L187.5 153.6 L192.5 157.0 L180.7 152.2Z" fill="rgb(16,7,33)" stroke-width="1.00"/><path d="M163.9 144.2 L175.7 148.9 L180.7 152.2 L168.9 147.6Z" fill="rgb(8,3,16)" stroke-width="1.00"/><path d="M152.1 139.9 L163.9 144.2 L168.9 147.6 L157.1 143.2Z" fill="rgb(7,3,15)" stroke-width="1.00"/><path d="M392.7 194.0 L404.5 193.2 L409.6 196.5 L397.8 197.3Z" fill="rgb(25,210,250)" stroke-width="1.30"/><path d="M381.0 194.3 L392.7 194.0 L397.8 197.3 L386.0 197.6Z" fill="rgb(29,206,250)" stroke-width="1.30"/><path d="M369.2 194.2 L381.0 194.3 L386.0 197.6 L374.2 197.5Z" fill="rgb(34,201,250)" stroke-width="1.24"/><path d="M357.4 193.8 L369.2 194.2 L374.2 197.5 L362.4 197.1Z" fill="rgb(39,195,250)" stroke-width="1.18"/><path d="M345.6 193.1 L357.4 193.8 L362.4 197.1 L350.7 196.4Z" fill="rgb(44,190,250)" stroke-width="1.14"/><path d="M333.8 192.1 L345.6 193.1 L350.7 196.4 L338.9 195.4Z" fill="rgb(48,178,248)" stroke-width="1.09"/><path d="M322.1 190.9 L333.8 192.1 L338.9 195.4 L327.1 194.2Z" fill="rgb(52,165,246)" stroke-width="1.04"/><path d="M310.3 189.5 L322.1 190.9 L327.1 194.2 L315.3 192.7Z" fill="rgb(58,152,244)" stroke-width="1.00"/><path d="M298.5 187.7 L310.3 189.5 L315.3 192.7 L303.5 191.0Z" fill="rgb(65,139,243)" stroke-width="1.00"/><path d="M286.7 185.7 L298.5 187.7 L303.5 191.0 L291.7 189.0Z" fill="rgb(74,124,242)" stroke-width="1.00"/><path d="M274.9 183.3 L286.7 185.7 L291.7 189.0 L280.0 186.6Z" fill="rgb(83,107,240)" stroke-width="1.00"/><path d="M263.2 180.6 L274.9 183.3 L280.0 186.6 L268.2 183.9Z" fill="rgb(94,89,238)" stroke-width="1.00"/><path d="M251.4 177.5 L263.2 180.6 L268.2 183.9 L256.4 180.8Z" fill="rgb(101,79,232)" stroke-width="1.00"/><path d="M239.6 174.1 L251.4 177.5 L256.4 180.8 L244.6 177.4Z" fill="rgb(107,70,225)" stroke-width="1.00"/><path d="M227.8 170.2 L239.6 174.1 L244.6 177.4 L232.8 173.6Z" fill="rgb(104,63,212)" stroke-width="1.00"/><path d="M216.0 166.1 L227.8 170.2 L232.8 173.6 L221.0 169.4Z" fill="rgb(99,56,199)" stroke-width="1.00"/><path d="M204.3 161.6 L216.0 166.1 L221.0 169.4 L209.3 165.0Z" fill="rgb(90,48,179)" stroke-width="1.00"/><path d="M192.5 157.0 L204.3 161.6 L209.3 165.0 L197.5 160.4Z" fill="rgb(53,27,106)" stroke-width="1.00"/><path d="M180.7 152.2 L192.5 157.0 L197.5 160.4 L185.7 155.6Z" fill="rgb(18,9,38)" stroke-width="1.00"/><path d="M168.9 147.6 L180.7 152.2 L185.7 155.6 L173.9 150.9Z" fill="rgb(8,3,16)" stroke-width="1.00"/><path d="M157.1 143.2 L168.9 147.6 L173.9 150.9 L162.1 146.4Z" fill="rgb(7,3,16)" stroke-width="1.00"/><path d="M397.8 197.3 L409.6 196.5 L414.6 199.8 L402.8 200.6Z" fill="rgb(24,212,250)" stroke-width="1.30"/><path d="M386.0 197.6 L397.8 197.3 L402.8 200.6 L391.0 200.9Z" fill="rgb(28,207,250)" stroke-width="1.30"/><path d="M374.2 197.5 L386.0 197.6 L391.0 200.9 L379.3 200.8Z" fill="rgb(32,203,250)" stroke-width="1.25"/><path d="M362.4 197.1 L374.2 197.5 L379.3 200.8 L367.5 200.4Z" fill="rgb(37,197,250)" stroke-width="1.19"/><path d="M350.7 196.4 L362.4 197.1 L367.5 200.4 L355.7 199.7Z" fill="rgb(43,191,250)" stroke-width="1.14"/><path d="M338.9 195.4 L350.7 196.4 L355.7 199.7 L343.9 198.7Z" fill="rgb(47,181,248)" stroke-width="1.10"/><path d="M327.1 194.2 L338.9 195.4 L343.9 198.7 L332.1 197.5Z" fill="rgb(51,168,246)" stroke-width="1.05"/><path d="M315.3 192.7 L327.1 194.2 L332.1 197.5 L320.3 196.0Z" fill="rgb(56,155,244)" stroke-width="1.00"/><path d="M303.5 191.0 L315.3 192.7 L320.3 196.0 L308.5 194.3Z" fill="rgb(64,142,243)" stroke-width="1.00"/><path d="M291.7 189.0 L303.5 191.0 L308.5 194.3 L296.8 192.2Z" fill="rgb(72,127,242)" stroke-width="1.00"/><path d="M280.0 186.6 L291.7 189.0 L296.8 192.2 L285.0 189.9Z" fill="rgb(81,111,241)" stroke-width="1.00"/><path d="M268.2 183.9 L280.0 186.6 L285.0 189.9 L273.2 187.2Z" fill="rgb(92,92,238)" stroke-width="1.00"/><path d="M256.4 180.8 L268.2 183.9 L273.2 187.2 L261.4 184.1Z" fill="rgb(100,81,233)" stroke-width="1.00"/><path d="M244.6 177.4 L256.4 180.8 L261.4 184.1 L249.6 180.7Z" fill="rgb(107,71,227)" stroke-width="1.00"/><path d="M232.8 173.6 L244.6 177.4 L249.6 180.7 L237.8 176.9Z" fill="rgb(105,64,214)" stroke-width="1.00"/><path d="M221.0 169.4 L232.8 173.6 L237.8 176.9 L226.0 172.8Z" fill="rgb(100,57,201)" stroke-width="1.00"/><path d="M209.3 165.0 L221.0 169.4 L226.0 172.8 L214.3 168.4Z" fill="rgb(95,51,188)" stroke-width="1.00"/><path d="M197.5 160.4 L209.3 165.0 L214.3 168.4 L202.5 163.8Z" fill="rgb(56,29,113)" stroke-width="1.00"/><path d="M185.7 155.6 L197.5 160.4 L202.5 163.8 L190.7 159.0Z" fill="rgb(21,10,43)" stroke-width="1.00"/><path d="M173.9 150.9 L185.7 155.6 L190.7 159.0 L178.9 154.3Z" fill="rgb(8,3,16)" stroke-width="1.00"/><path d="M162.1 146.4 L173.9 150.9 L178.9 154.3 L167.1 149.7Z" fill="rgb(7,3,16)" stroke-width="1.00"/><path d="M402.8 200.6 L414.6 199.8 L419.7 203.1 L407.9 203.9Z" fill="rgb(22,213,250)" stroke-width="1.30"/><path d="M391.0 200.9 L402.8 200.6 L407.9 203.9 L396.1 204.2Z" fill="rgb(26,209,250)" stroke-width="1.30"/><path d="M379.3 200.8 L391.0 200.9 L396.1 204.2 L384.3 204.2Z" fill="rgb(31,204,250)" stroke-width="1.26"/><path d="M367.5 200.4 L379.3 200.8 L384.3 204.2 L372.5 203.7Z" fill="rgb(36,199,250)" stroke-width="1.20"/><path d="M355.7 199.7 L367.5 200.4 L372.5 203.7 L360.7 203.0Z" fill="rgb(41,193,250)" stroke-width="1.15"/><path d="M343.9 198.7 L355.7 199.7 L360.7 203.0 L348.9 202.0Z" fill="rgb(46,184,249)" stroke-width="1.10"/><path d="M332.1 197.5 L343.9 198.7 L348.9 202.0 L337.1 200.8Z" fill="rgb(50,172,247)" stroke-width="1.05"/><path d="M320.3 196.0 L332.1 197.5 L337.1 200.8 L325.3 199.3Z" fill="rgb(54,158,245)" stroke-width="1.01"/><path d="M308.5 194.3 L320.3 196.0 L325.3 199.3 L313.6 197.6Z" fill="rgb(62,145,244)" stroke-width="1.00"/><path d="M296.8 192.2 L308.5 194.3 L313.6 197.6 L301.8 195.5Z" fill="rgb(70,130,242)" stroke-width="1.00"/><path d="M285.0 189.9 L296.8 192.2 L301.8 195.5 L290.0 193.1Z" fill="rgb(79,114,241)" stroke-width="1.00"/><path d="M273.2 187.2 L285.0 189.9 L290.0 193.1 L278.2 190.4Z" fill="rgb(90,96,239)" stroke-width="1.00"/><path d="M261.4 184.1 L273.2 187.2 L278.2 190.4 L266.4 187.4Z" fill="rgb(99,82,234)" stroke-width="1.00"/><path d="M249.6 180.7 L261.4 184.1 L266.4 187.4 L254.6 184.0Z" fill="rgb(106,73,228)" stroke-width="1.00"/><path d="M237.8 176.9 L249.6 180.7 L254.6 184.0 L242.8 180.3Z" fill="rgb(105,65,216)" stroke-width="1.00"/><path d="M226.0 172.8 L237.8 176.9 L242.8 180.3 L231.0 176.2Z" fill="rgb(101,58,203)" stroke-width="1.00"/><path d="M214.3 168.4 L226.0 172.8 L231.0 176.2 L219.3 171.8Z" fill="rgb(95,51,189)" stroke-width="1.00"/><path d="M202.5 163.8 L214.3 168.4 L219.3 171.8 L207.5 167.2Z" fill="rgb(61,31,121)" stroke-width="1.00"/><path d="M190.7 159.0 L202.5 163.8 L207.5 167.2 L195.7 162.5Z" fill="rgb(24,12,49)" stroke-width="1.00"/><path d="M178.9 154.3 L190.7 159.0 L195.7 162.5 L183.9 157.7Z" fill="rgb(8,3,16)" stroke-width="1.00"/><path d="M167.1 149.7 L178.9 154.3 L183.9 157.7 L172.1 153.0Z" fill="rgb(7,3,16)" stroke-width="1.00"/><path d="M407.9 203.9 L419.7 203.1 L424.7 206.4 L412.9 207.3Z" fill="rgb(21,215,250)" stroke-width="1.30"/><path d="M396.1 204.2 L407.9 203.9 L412.9 207.3 L401.1 207.6Z" fill="rgb(24,211,250)" stroke-width="1.30"/><path d="M384.3 204.2 L396.1 204.2 L401.1 207.6 L389.3 207.5Z" fill="rgb(29,206,250)" stroke-width="1.27"/><path d="M372.5 203.7 L384.3 204.2 L389.3 207.5 L377.5 207.1Z" fill="rgb(34,201,250)" stroke-width="1.21"/><path d="M360.7 203.0 L372.5 203.7 L377.5 207.1 L365.7 206.4Z" fill="rgb(40,195,250)" stroke-width="1.16"/><path d="M348.9 202.0 L360.7 203.0 L365.7 206.4 L353.9 205.4Z" fill="rgb(45,188,249)" stroke-width="1.11"/><path d="M337.1 200.8 L348.9 202.0 L353.9 205.4 L342.2 204.1Z" fill="rgb(49,175,247)" stroke-width="1.06"/><path d="M325.3 199.3 L337.1 200.8 L342.2 204.1 L330.4 202.6Z" fill="rgb(53,162,245)" stroke-width="1.01"/><path d="M313.6 197.6 L325.3 199.3 L330.4 202.6 L318.6 200.9Z" fill="rgb(60,148,244)" stroke-width="1.00"/><path d="M301.8 195.5 L313.6 197.6 L318.6 200.9 L306.8 198.8Z" fill="rgb(69,133,243)" stroke-width="1.00"/><path d="M290.0 193.1 L301.8 195.5 L306.8 198.8 L295.0 196.4Z" fill="rgb(77,118,242)" stroke-width="1.00"/><path d="M278.2 190.4 L290.0 193.1 L295.0 196.4 L283.2 193.8Z" fill="rgb(88,99,239)" stroke-width="1.00"/><path d="M266.4 187.4 L278.2 190.4 L283.2 193.8 L271.4 190.7Z" fill="rgb(97,84,235)" stroke-width="1.00"/><path d="M254.6 184.0 L266.4 187.4 L271.4 190.7 L259.6 187.4Z" fill="rgb(105,75,229)" stroke-width="1.00"/><path d="M242.8 180.3 L254.6 184.0 L259.6 187.4 L247.8 183.6Z" fill="rgb(105,66,218)" stroke-width="1.00"/><path d="M231.0 176.2 L242.8 180.3 L247.8 183.6 L236.0 179.6Z" fill="rgb(102,59,205)" stroke-width="1.00"/><path d="M219.3 171.8 L231.0 176.2 L236.0 179.6 L224.2 175.2Z" fill="rgb(96,52,191)" stroke-width="1.00"/><path d="M207.5 167.2 L219.3 171.8 L224.2 175.2 L212.5 170.7Z" fill="rgb(65,34,130)" stroke-width="1.00"/><path d="M195.7 162.5 L207.5 167.2 L212.5 170.7 L200.7 165.9Z" fill="rgb(27,13,55)" stroke-width="1.00"/><path d="M183.9 157.7 L195.7 162.5 L200.7 165.9 L188.9 161.1Z" fill="rgb(8,4,17)" stroke-width="1.00"/><path d="M172.1 153.0 L183.9 157.7 L188.9 161.1 L177.1 156.3Z" fill="rgb(7,3,16)" stroke-width="1.00"/><path d="M412.9 207.3 L424.7 206.4 L429.7 209.8 L417.9 210.7Z" fill="rgb(19,217,250)" stroke-width="1.30"/><path d="M401.1 207.6 L412.9 207.3 L417.9 210.7 L406.1 211.0Z" fill="rgb(23,213,250)" stroke-width="1.30"/><path d="M389.3 207.5 L401.1 207.6 L406.1 211.0 L394.4 210.9Z" fill="rgb(27,208,250)" stroke-width="1.28"/><path d="M377.5 207.1 L389.3 207.5 L394.4 210.9 L382.6 210.5Z" fill="rgb(32,203,250)" stroke-width="1.22"/><path d="M365.7 206.4 L377.5 207.1 L382.6 210.5 L370.8 209.8Z" fill="rgb(38,197,250)" stroke-width="1.17"/><path d="M353.9 205.4 L365.7 206.4 L370.8 209.8 L359.0 208.8Z" fill="rgb(44,190,250)" stroke-width="1.12"/><path d="M342.2 204.1 L353.9 205.4 L359.0 208.8 L347.2 207.5Z" fill="rgb(48,178,248)" stroke-width="1.07"/><path d="M330.4 202.6 L342.2 204.1 L347.2 207.5 L335.4 206.0Z" fill="rgb(52,165,246)" stroke-width="1.02"/><path d="M318.6 200.9 L330.4 202.6 L335.4 206.0 L323.6 204.2Z" fill="rgb(58,151,244)" stroke-width="1.00"/><path d="M306.8 198.8 L318.6 200.9 L323.6 204.2 L311.8 202.1Z" fill="rgb(67,136,243)" stroke-width="1.00"/><path d="M295.0 196.4 L306.8 198.8 L311.8 202.1 L300.0 199.8Z" fill="rgb(76,121,242)" stroke-width="1.00"/><path d="M283.2 193.8 L295.0 196.4 L300.0 199.8 L288.2 197.1Z" fill="rgb(86,103,240)" stroke-width="1.00"/><path d="M271.4 190.7 L283.2 193.8 L288.2 197.1 L276.4 194.1Z" fill="rgb(96,86,236)" stroke-width="1.00"/><path d="M259.6 187.4 L271.4 190.7 L276.4 194.1 L264.6 190.7Z" fill="rgb(104,76,230)" stroke-width="1.00"/><path d="M247.8 183.6 L259.6 187.4 L264.6 190.7 L252.8 187.0Z" fill="rgb(106,68,221)" stroke-width="1.00"/><path d="M236.0 179.6 L247.8 183.6 L252.8 187.0 L241.0 183.0Z" fill="rgb(103,60,207)" stroke-width="1.00"/><path d="M224.2 175.2 L236.0 179.6 L241.0 183.0 L229.2 178.7Z" fill="rgb(97,53,193)" stroke-width="1.00"/><path d="M212.5 170.7 L224.2 175.2 L229.2 178.7 L217.5 174.1Z" fill="rgb(69,36,139)" stroke-width="1.00"/><path d="M200.7 165.9 L212.5 170.7 L217.5 174.1 L205.7 169.3Z" fill="rgb(30,15,61)" stroke-width="1.00"/><path d="M188.9 161.1 L200.7 165.9 L205.7 169.3 L193.9 164.5Z" fill="rgb(8,4,17)" stroke-width="1.00"/><path d="M177.1 156.3 L188.9 161.1 L193.9 164.5 L182.1 159.6Z" fill="rgb(7,3,16)" stroke-width="1.00"/><path d="M417.9 210.7 L429.7 209.8 L434.8 213.2 L423.0 214.1Z" fill="rgb(17,219,250)" stroke-width="1.30"/><path d="M406.1 211.0 L417.9 210.7 L423.0 214.1 L411.2 214.4Z" fill="rgb(21,215,250)" stroke-width="1.30"/><path d="M394.4 210.9 L406.1 211.0 L411.2 214.4 L399.4 214.3Z" fill="rgb(25,210,250)" stroke-width="1.29"/><path d="M382.6 210.5 L394.4 210.9 L399.4 214.3 L387.6 213.9Z" fill="rgb(30,204,250)" stroke-width="1.23"/><path d="M370.8 209.8 L382.6 210.5 L387.6 213.9 L375.8 213.2Z" fill="rgb(36,199,250)" stroke-width="1.18"/><path d="M359.0 208.8 L370.8 209.8 L375.8 213.2 L364.0 212.2Z" fill="rgb(42,192,250)" stroke-width="1.13"/><path d="M347.2 207.5 L359.0 208.8 L364.0 212.2 L352.2 210.9Z" fill="rgb(47,182,248)" stroke-width="1.08"/><path d="M335.4 206.0 L347.2 207.5 L352.2 210.9 L340.4 209.4Z" fill="rgb(51,168,246)" stroke-width="1.03"/><path d="M323.6 204.2 L335.4 206.0 L340.4 209.4 L328.6 207.6Z" fill="rgb(56,154,244)" stroke-width="1.00"/><path d="M311.8 202.1 L323.6 204.2 L328.6 207.6 L316.8 205.5Z" fill="rgb(65,139,243)" stroke-width="1.00"/><path d="M300.0 199.8 L311.8 202.1 L316.8 205.5 L305.0 203.1Z" fill="rgb(74,124,242)" stroke-width="1.00"/><path d="M288.2 197.1 L300.0 199.8 L305.0 203.1 L293.2 200.5Z" fill="rgb(84,106,240)" stroke-width="1.00"/><path d="M276.4 194.1 L288.2 197.1 L293.2 200.5 L281.4 197.5Z" fill="rgb(95,87,237)" stroke-width="1.00"/><path d="M264.6 190.7 L276.4 194.1 L281.4 197.5 L269.6 194.1Z" fill="rgb(102,78,232)" stroke-width="1.00"/><path d="M252.8 187.0 L264.6 190.7 L269.6 194.1 L257.8 190.5Z" fill="rgb(106,69,223)" stroke-width="1.00"/><path d="M241.0 183.0 L252.8 187.0 L257.8 190.5 L246.0 186.5Z" fill="rgb(103,61,209)" stroke-width="1.00"/><path d="M229.2 178.7 L241.0 183.0 L246.0 186.5 L234.2 182.2Z" fill="rgb(98,55,196)" stroke-width="1.00"/><path d="M217.5 174.1 L229.2 178.7 L234.2 182.2 L222.4 177.6Z" fill="rgb(74,39,148)" stroke-width="1.00"/><path d="M205.7 169.3 L217.5 174.1 L222.4 177.6 L210.7 172.8Z" fill="rgb(34,17,68)" stroke-width="1.00"/><path d="M193.9 164.5 L205.7 169.3 L210.7 172.8 L198.9 167.9Z" fill="rgb(8,4,17)" stroke-width="1.00"/><path d="M182.1 159.6 L193.9 164.5 L198.9 167.9 L187.1 162.9Z" fill="rgb(8,3,16)" stroke-width="1.00"/><path d="M423.0 214.1 L434.8 213.2 L439.8 216.6 L428.0 217.5Z" fill="rgb(15,221,250)" stroke-width="1.30"/><path d="M411.2 214.4 L423.0 214.1 L428.0 217.5 L416.2 217.9Z" fill="rgb(19,217,250)" stroke-width="1.30"/><path d="M399.4 214.3 L411.2 214.4 L416.2 217.9 L404.4 217.8Z" fill="rgb(24,212,250)" stroke-width="1.30"/><path d="M387.6 213.9 L399.4 214.3 L404.4 217.8 L392.6 217.4Z" fill="rgb(29,206,250)" stroke-width="1.24"/><path d="M375.8 213.2 L387.6 213.9 L392.6 217.4 L380.8 216.6Z" fill="rgb(34,200,250)" stroke-width="1.19"/><path d="M364.0 212.2 L375.8 213.2 L380.8 216.6 L369.0 215.6Z" fill="rgb(40,194,250)" stroke-width="1.14"/><path d="M352.2 210.9 L364.0 212.2 L369.0 215.6 L357.2 214.3Z" fill="rgb(46,185,249)" stroke-width="1.09"/><path d="M340.4 209.4 L352.2 210.9 L357.2 214.3 L345.4 212.8Z" fill="rgb(50,172,247)" stroke-width="1.04"/><path d="M328.6 207.6 L340.4 209.4 L345.4 212.8 L333.6 210.9Z" fill="rgb(55,157,244)" stroke-width="1.00"/><path d="M316.8 205.5 L328.6 207.6 L333.6 210.9 L321.8 208.9Z" fill="rgb(63,143,243)" stroke-width="1.00"/><path d="M305.0 203.1 L316.8 205.5 L321.8 208.9 L310.0 206.5Z" fill="rgb(72,127,242)" stroke-width="1.00"/><path d="M293.2 200.5 L305.0 203.1 L310.0 206.5 L298.2 203.9Z" fill="rgb(82,110,241)" stroke-width="1.00"/><path d="M281.4 197.5 L293.2 200.5 L298.2 203.9 L286.4 200.9Z" fill="rgb(93,91,238)" stroke-width="1.00"/><path d="M269.6 194.1 L281.4 197.5 L286.4 200.9 L274.6 197.6Z" fill="rgb(101,80,233)" stroke-width="1.00"/><path d="M257.8 190.5 L269.6 194.1 L274.6 197.6 L262.8 193.9Z" fill="rgb(107,70,225)" stroke-width="1.00"/><path d="M246.0 186.5 L257.8 190.5 L262.8 193.9 L251.0 190.0Z" fill="rgb(104,63,212)" stroke-width="1.00"/><path d="M234.2 182.2 L246.0 186.5 L251.0 190.0 L239.2 185.7Z" fill="rgb(99,56,198)" stroke-width="1.00"/><path d="M222.4 177.6 L234.2 182.2 L239.2 185.7 L227.4 181.1Z" fill="rgb(79,42,158)" stroke-width="1.00"/><path d="M210.7 172.8 L222.4 177.6 L227.4 181.1 L215.6 176.3Z" fill="rgb(37,19,75)" stroke-width="1.00"/><path d="M198.9 167.9 L210.7 172.8 L215.6 176.3 L203.8 171.3Z" fill="rgb(8,4,17)" stroke-width="1.00"/><path d="M187.1 162.9 L198.9 167.9 L203.8 171.3 L192.1 166.3Z" fill="rgb(8,3,16)" stroke-width="1.00"/><path d="M428.0 217.5 L439.8 216.6 L444.9 220.1 L433.1 221.0Z" fill="rgb(14,222,249)" stroke-width="1.30"/><path d="M416.2 217.9 L428.0 217.5 L433.1 221.0 L421.3 221.4Z" fill="rgb(17,219,250)" stroke-width="1.30"/><path d="M404.4 217.8 L416.2 217.9 L421.3 221.4 L409.5 221.3Z" fill="rgb(22,214,250)" stroke-width="1.30"/><path d="M392.6 217.4 L404.4 217.8 L409.5 221.3 L397.7 220.8Z" fill="rgb(27,208,250)" stroke-width="1.25"/><path d="M380.8 216.6 L392.6 217.4 L397.7 220.8 L385.8 220.1Z" fill="rgb(32,202,250)" stroke-width="1.20"/><path d="M369.0 215.6 L380.8 216.6 L385.8 220.1 L374.0 219.0Z" fill="rgb(38,196,250)" stroke-width="1.15"/><path d="M357.2 214.3 L369.0 215.6 L374.0 219.0 L362.2 217.7Z" fill="rgb(45,189,249)" stroke-width="1.10"/><path d="M345.4 212.8 L357.2 214.3 L362.2 217.7 L350.4 216.2Z" fill="rgb(49,175,247)" stroke-width="1.05"/><path d="M333.6 210.9 L345.4 212.8 L350.4 216.2 L338.6 214.4Z" fill="rgb(53,161,245)" stroke-width="1.00"/><path d="M321.8 208.9 L333.6 210.9 L338.6 214.4 L326.8 212.3Z" fill="rgb(61,146,244)" stroke-width="1.00"/><path d="M310.0 206.5 L321.8 208.9 L326.8 212.3 L315.0 209.9Z" fill="rgb(70,131,242)" stroke-width="1.00"/><path d="M298.2 203.9 L310.0 206.5 L315.0 209.9 L303.2 207.3Z" fill="rgb(79,114,241)" stroke-width="1.00"/><path d="M286.4 200.9 L298.2 203.9 L303.2 207.3 L291.4 204.3Z" fill="rgb(90,95,238)" stroke-width="1.00"/><path d="M274.6 197.6 L286.4 200.9 L291.4 204.3 L279.6 201.0Z" fill="rgb(99,81,234)" stroke-width="1.00"/><path d="M262.8 193.9 L274.6 197.6 L279.6 201.0 L267.8 197.4Z" fill="rgb(107,72,228)" stroke-width="1.00"/><path d="M251.0 190.0 L262.8 193.9 L267.8 197.4 L256.0 193.5Z" fill="rgb(105,64,214)" stroke-width="1.00"/><path d="M239.2 185.7 L251.0 190.0 L256.0 193.5 L244.2 189.2Z" fill="rgb(100,57,200)" stroke-width="1.00"/><path d="M227.4 181.1 L239.2 185.7 L244.2 189.2 L232.4 184.6Z" fill="rgb(85,45,168)" stroke-width="1.00"/><path d="M215.6 176.3 L227.4 181.1 L232.4 184.6 L220.6 179.8Z" fill="rgb(41,21,83)" stroke-width="1.00"/><path d="M203.8 171.3 L215.6 176.3 L220.6 179.8 L208.8 174.8Z" fill="rgb(8,4,17)" stroke-width="1.00"/><path d="M192.1 166.3 L203.8 171.3 L208.8 174.8 L197.0 169.7Z" fill="rgb(8,3,16)" stroke-width="1.00"/><path d="M433.1 221.0 L444.9 220.1 L449.9 223.6 L438.1 224.5Z" fill="rgb(13,224,249)" stroke-width="1.30"/><path d="M421.3 221.4 L433.1 221.0 L438.1 224.5 L426.3 224.9Z" fill="rgb(15,221,250)" stroke-width="1.30"/><path d="M409.5 221.3 L421.3 221.4 L426.3 224.9 L414.5 224.8Z" fill="rgb(20,216,250)" stroke-width="1.30"/><path d="M397.7 220.8 L409.5 221.3 L414.5 224.8 L402.7 224.4Z" fill="rgb(25,210,250)" stroke-width="1.27"/><path d="M385.8 220.1 L397.7 220.8 L402.7 224.4 L390.9 223.6Z" fill="rgb(30,204,250)" stroke-width="1.21"/><path d="M374.0 219.0 L385.8 220.1 L390.9 223.6 L379.1 222.5Z" fill="rgb(37,198,250)" stroke-width="1.16"/><path d="M362.2 217.7 L374.0 219.0 L379.1 222.5 L367.3 221.2Z" fill="rgb(43,191,250)" stroke-width="1.11"/><path d="M350.4 216.2 L362.2 217.7 L367.3 221.2 L355.5 219.7Z" fill="rgb(48,179,248)" stroke-width="1.06"/><path d="M338.6 214.4 L350.4 216.2 L355.5 219.7 L343.7 217.8Z" fill="rgb(52,165,246)" stroke-width="1.01"/><path d="M326.8 212.3 L338.6 214.4 L343.7 217.8 L331.9 215.7Z" fill="rgb(59,150,244)" stroke-width="1.00"/><path d="M315.0 209.9 L326.8 212.3 L331.9 215.7 L320.1 213.4Z" fill="rgb(68,134,243)" stroke-width="1.00"/><path d="M303.2 207.3 L315.0 209.9 L320.1 213.4 L308.3 210.7Z" fill="rgb(77,118,242)" stroke-width="1.00"/><path d="M291.4 204.3 L303.2 207.3 L308.3 210.7 L296.5 207.8Z" fill="rgb(88,99,239)" stroke-width="1.00"/><path d="M279.6 201.0 L291.4 204.3 L296.5 207.8 L284.6 204.5Z" fill="rgb(98,83,235)" stroke-width="1.00"/><path d="M267.8 197.4 L279.6 201.0 L284.6 204.5 L272.8 200.9Z" fill="rgb(106,73,229)" stroke-width="1.00"/><path d="M256.0 193.5 L267.8 197.4 L272.8 200.9 L261.0 197.0Z" fill="rgb(105,65,217)" stroke-width="1.00"/><path d="M244.2 189.2 L256.0 193.5 L261.0 197.0 L249.2 192.7Z" fill="rgb(101,58,203)" stroke-width="1.00"/><path d="M232.4 184.6 L244.2 189.2 L249.2 192.7 L237.4 188.2Z" fill="rgb(90,49,179)" stroke-width="1.00"/><path d="M220.6 179.8 L232.4 184.6 L237.4 188.2 L225.6 183.4Z" fill="rgb(45,23,91)" stroke-width="1.00"/><path d="M208.8 174.8 L220.6 179.8 L225.6 183.4 L213.8 178.3Z" fill="rgb(8,4,17)" stroke-width="1.00"/><path d="M197.0 169.7 L208.8 174.8 L213.8 178.3 L202.0 173.1Z" fill="rgb(8,3,16)" stroke-width="1.00"/><path d="M438.1 224.5 L449.9 223.6 L454.9 227.2 L443.1 228.1Z" fill="rgb(12,226,249)" stroke-width="1.30"/><path d="M426.3 224.9 L438.1 224.5 L443.1 228.1 L431.3 228.5Z" fill="rgb(14,222,249)" stroke-width="1.30"/><path d="M414.5 224.8 L426.3 224.9 L431.3 228.5 L419.5 228.4Z" fill="rgb(18,218,250)" stroke-width="1.30"/><path d="M402.7 224.4 L414.5 224.8 L419.5 228.4 L407.7 227.9Z" fill="rgb(23,213,250)" stroke-width="1.28"/><path d="M390.9 223.6 L402.7 224.4 L407.7 227.9 L395.9 227.2Z" fill="rgb(29,207,250)" stroke-width="1.22"/><path d="M379.1 222.5 L390.9 223.6 L395.9 227.2 L384.1 226.1Z" fill="rgb(35,200,250)" stroke-width="1.17"/><path d="M367.3 221.2 L379.1 222.5 L384.1 226.1 L372.3 224.7Z" fill="rgb(41,193,250)" stroke-width="1.12"/><path d="M355.5 219.7 L367.3 221.2 L372.3 224.7 L360.5 223.2Z" fill="rgb(47,183,248)" stroke-width="1.07"/><path d="M343.7 217.8 L355.5 219.7 L360.5 223.2 L348.7 221.3Z" fill="rgb(51,168,246)" stroke-width="1.02"/><path d="M331.9 215.7 L343.7 217.8 L348.7 221.3 L336.9 219.2Z" fill="rgb(57,153,244)" stroke-width="1.00"/><path d="M320.1 213.4 L331.9 215.7 L336.9 219.2 L325.1 216.8Z" fill="rgb(66,138,243)" stroke-width="1.00"/><path d="M308.3 210.7 L320.1 213.4 L325.1 216.8 L313.3 214.2Z" fill="rgb(75,121,242)" stroke-width="1.00"/><path d="M296.5 207.8 L308.3 210.7 L313.3 214.2 L301.5 211.3Z" fill="rgb(86,103,240)" stroke-width="1.00"/><path d="M284.6 204.5 L296.5 207.8 L301.5 211.3 L289.7 208.0Z" fill="rgb(96,85,236)" stroke-width="1.00"/><path d="M272.8 200.9 L284.6 204.5 L289.7 208.0 L277.8 204.4Z" fill="rgb(104,75,230)" stroke-width="1.00"/><path d="M261.0 197.0 L272.8 200.9 L277.8 204.4 L266.0 200.6Z" fill="rgb(106,67,219)" stroke-width="1.00"/><path d="M249.2 192.7 L261.0 197.0 L266.0 200.6 L254.2 196.3Z" fill="rgb(102,59,205)" stroke-width="1.00"/><path d="M237.4 188.2 L249.2 192.7 L254.2 196.3 L242.4 191.8Z" fill="rgb(96,52,191)" stroke-width="1.00"/><path d="M225.6 183.4 L237.4 188.2 L242.4 191.8 L230.6 186.9Z" fill="rgb(50,26,100)" stroke-width="1.00"/><path d="M213.8 178.3 L225.6 183.4 L230.6 186.9 L218.8 181.8Z" fill="rgb(8,4,17)" stroke-width="1.00"/><path d="M202.0 173.1 L213.8 178.3 L218.8 181.8 L207.0 176.5Z" fill="rgb(8,3,16)" stroke-width="1.00"/><path d="M443.1 228.1 L454.9 227.2 L460.0 230.8 L448.2 231.7Z" fill="rgb(11,227,248)" stroke-width="1.30"/><path d="M431.3 228.5 L443.1 228.1 L448.2 231.7 L436.4 232.1Z" fill="rgb(13,224,249)" stroke-width="1.30"/><path d="M419.5 228.4 L431.3 228.5 L436.4 232.1 L424.5 232.0Z" fill="rgb(16,220,250)" stroke-width="1.30"/><path d="M407.7 227.9 L419.5 228.4 L424.5 232.0 L412.7 231.5Z" fill="rgb(21,215,250)" stroke-width="1.30"/><path d="M395.9 227.2 L407.7 227.9 L412.7 231.5 L400.9 230.7Z" fill="rgb(26,209,250)" stroke-width="1.24"/><path d="M384.1 226.1 L395.9 227.2 L400.9 230.7 L389.1 229.7Z" fill="rgb(33,202,250)" stroke-width="1.18"/><path d="M372.3 224.7 L384.1 226.1 L389.1 229.7 L377.3 228.3Z" fill="rgb(39,195,250)" stroke-width="1.13"/><path d="M360.5 223.2 L372.3 224.7 L377.3 228.3 L365.5 226.7Z" fill="rgb(45,187,249)" stroke-width="1.08"/><path d="M348.7 221.3 L360.5 223.2 L365.5 226.7 L353.7 224.8Z" fill="rgb(50,172,247)" stroke-width="1.03"/><path d="M336.9 219.2 L348.7 221.3 L353.7 224.8 L341.9 222.7Z" fill="rgb(55,157,244)" stroke-width="1.00"/><path d="M325.1 216.8 L336.9 219.2 L341.9 222.7 L330.1 220.4Z" fill="rgb(64,141,243)" stroke-width="1.00"/><path d="M313.3 214.2 L325.1 216.8 L330.1 220.4 L318.3 217.7Z" fill="rgb(73,125,242)" stroke-width="1.00"/><path d="M301.5 211.3 L313.3 214.2 L318.3 217.7 L306.5 214.8Z" fill="rgb(84,107,240)" stroke-width="1.00"/><path d="M289.7 208.0 L301.5 211.3 L306.5 214.8 L294.7 211.6Z" fill="rgb(95,87,237)" stroke-width="1.00"/><path d="M277.8 204.4 L289.7 208.0 L294.7 211.6 L282.8 208.0Z" fill="rgb(103,77,231)" stroke-width="1.00"/><path d="M266.0 200.6 L277.8 204.4 L282.8 208.0 L271.0 204.1Z" fill="rgb(106,68,222)" stroke-width="1.00"/><path d="M254.2 196.3 L266.0 200.6 L271.0 204.1 L259.2 199.9Z" fill="rgb(103,61,208)" stroke-width="1.00"/><path d="M242.4 191.8 L254.2 196.3 L259.2 199.9 L247.4 195.4Z" fill="rgb(97,54,194)" stroke-width="1.00"/><path d="M230.6 186.9 L242.4 191.8 L247.4 195.4 L235.6 190.5Z" fill="rgb(54,29,109)" stroke-width="1.00"/><path d="M218.8 181.8 L230.6 186.9 L235.6 190.5 L223.8 185.4Z" fill="rgb(10,5,21)" stroke-width="1.00"/><path d="M207.0 176.5 L218.8 181.8 L223.8 185.4 L212.0 180.0Z" fill="rgb(8,4,17)" stroke-width="1.00"/><path d="M448.2 231.7 L460.0 230.8 L465.0 234.4 L453.2 235.4Z" fill="rgb(10,229,248)" stroke-width="1.30"/><path d="M436.4 232.1 L448.2 231.7 L453.2 235.4 L441.4 235.7Z" fill="rgb(12,226,249)" stroke-width="1.30"/><path d="M424.5 232.0 L436.4 232.1 L441.4 235.7 L429.6 235.7Z" fill="rgb(14,222,249)" stroke-width="1.30"/><path d="M412.7 231.5 L424.5 232.0 L429.6 235.7 L417.8 235.2Z" fill="rgb(19,217,250)" stroke-width="1.30"/><path d="M400.9 230.7 L412.7 231.5 L417.8 235.2 L406.0 234.4Z" fill="rgb(24,211,250)" stroke-width="1.25"/><path d="M389.1 229.7 L400.9 230.7 L406.0 234.4 L394.2 233.3Z" fill="rgb(31,204,250)" stroke-width="1.19"/><path d="M377.3 228.3 L389.1 229.7 L394.2 233.3 L382.3 231.9Z" fill="rgb(37,197,250)" stroke-width="1.14"/><path d="M365.5 226.7 L377.3 228.3 L382.3 231.9 L370.5 230.3Z" fill="rgb(44,190,250)" stroke-width="1.09"/><path d="M353.7 224.8 L365.5 226.7 L370.5 230.3 L358.7 228.4Z" fill="rgb(49,176,247)" stroke-width="1.04"/><path d="M341.9 222.7 L353.7 224.8 L358.7 228.4 L346.9 226.3Z" fill="rgb(53,161,245)" stroke-width="1.00"/><path d="M330.1 220.4 L341.9 222.7 L346.9 226.3 L335.1 223.9Z" fill="rgb(62,145,244)" stroke-width="1.00"/><path d="M318.3 217.7 L330.1 220.4 L335.1 223.9 L323.3 221.3Z" fill="rgb(71,129,242)" stroke-width="1.00"/><path d="M306.5 214.8 L318.3 217.7 L323.3 221.3 L311.5 218.4Z" fill="rgb(81,111,241)" stroke-width="1.00"/><path d="M294.7 211.6 L306.5 214.8 L311.5 218.4 L299.7 215.1Z" fill="rgb(93,91,238)" stroke-width="1.00"/><path d="M282.8 208.0 L294.7 211.6 L299.7 215.1 L287.9 211.6Z" fill="rgb(101,79,232)" stroke-width="1.00"/><path d="M271.0 204.1 L282.8 208.0 L287.9 211.6 L276.0 207.8Z" fill="rgb(107,70,224)" stroke-width="1.00"/><path d="M259.2 199.9 L271.0 204.1 L276.0 207.8 L264.2 203.6Z" fill="rgb(104,62,210)" stroke-width="1.00"/><path d="M247.4 195.4 L259.2 199.9 L264.2 203.6 L252.4 199.1Z" fill="rgb(98,55,196)" stroke-width="1.00"/><path d="M235.6 190.5 L247.4 195.4 L252.4 199.1 L240.6 194.2Z" fill="rgb(60,31,119)" stroke-width="1.00"/><path d="M223.8 185.4 L235.6 190.5 L240.6 194.2 L228.8 189.0Z" fill="rgb(14,7,28)" stroke-width="1.00"/><path d="M212.0 180.0 L223.8 185.4 L228.8 189.0 L217.0 183.4Z" fill="rgb(8,4,17)" stroke-width="1.00"/><path d="M453.2 235.4 L465.0 234.4 L470.1 238.1 L458.2 239.1Z" fill="rgb(8,231,247)" stroke-width="1.30"/><path d="M441.4 235.7 L453.2 235.4 L458.2 239.1 L446.4 239.4Z" fill="rgb(10,228,248)" stroke-width="1.30"/><path d="M429.6 235.7 L441.4 235.7 L446.4 239.4 L434.6 239.4Z" fill="rgb(13,224,249)" stroke-width="1.30"/><path d="M417.8 235.2 L429.6 235.7 L434.6 239.4 L422.8 238.9Z" fill="rgb(17,219,250)" stroke-width="1.30"/><path d="M406.0 234.4 L417.8 235.2 L422.8 238.9 L411.0 238.1Z" fill="rgb(22,213,250)" stroke-width="1.27"/><path d="M394.2 233.3 L406.0 234.4 L411.0 238.1 L399.2 236.9Z" fill="rgb(28,207,250)" stroke-width="1.21"/><path d="M382.3 231.9 L394.2 233.3 L399.2 236.9 L387.4 235.5Z" fill="rgb(35,200,250)" stroke-width="1.16"/><path d="M370.5 230.3 L382.3 231.9 L387.4 235.5 L375.5 233.9Z" fill="rgb(42,192,250)" stroke-width="1.10"/><path d="M358.7 228.4 L370.5 230.3 L375.5 233.9 L363.7 232.0Z" fill="rgb(47,180,248)" stroke-width="1.06"/><path d="M346.9 226.3 L358.7 228.4 L363.7 232.0 L351.9 229.9Z" fill="rgb(52,165,246)" stroke-width="1.01"/><path d="M335.1 223.9 L346.9 226.3 L351.9 229.9 L340.1 227.5Z" fill="rgb(59,149,244)" stroke-width="1.00"/><path d="M323.3 221.3 L335.1 223.9 L340.1 227.5 L328.3 224.9Z" fill="rgb(69,133,243)" stroke-width="1.00"/><path d="M311.5 218.4 L323.3 221.3 L328.3 224.9 L316.5 222.0Z" fill="rgb(79,115,241)" stroke-width="1.00"/><path d="M299.7 215.1 L311.5 218.4 L316.5 222.0 L304.7 218.8Z" fill="rgb(90,95,239)" stroke-width="1.00"/><path d="M287.9 211.6 L299.7 215.1 L304.7 218.8 L292.9 215.3Z" fill="rgb(99,81,234)" stroke-width="1.00"/><path d="M276.0 207.8 L287.9 211.6 L292.9 215.3 L281.0 211.4Z" fill="rgb(107,71,227)" stroke-width="1.00"/><path d="M264.2 203.6 L276.0 207.8 L281.0 211.4 L269.2 207.3Z" fill="rgb(104,64,213)" stroke-width="1.00"/><path d="M252.4 199.1 L264.2 203.6 L269.2 207.3 L257.4 202.7Z" fill="rgb(99,56,199)" stroke-width="1.00"/><path d="M240.6 194.2 L252.4 199.1 L257.4 202.7 L245.6 197.9Z" fill="rgb(65,34,129)" stroke-width="1.00"/><path d="M228.8 189.0 L240.6 194.2 L245.6 197.9 L233.8 192.6Z" fill="rgb(17,9,35)" stroke-width="1.00"/><path d="M217.0 183.4 L228.8 189.0 L233.8 192.6 L222.0 187.0Z" fill="rgb(8,4,17)" stroke-width="1.00"/><path d="M458.2 239.1 L470.1 238.1 L475.1 241.9 L463.3 242.8Z" fill="rgb(7,233,247)" stroke-width="1.30"/><path d="M446.4 239.4 L458.2 239.1 L463.3 242.8 L451.5 243.2Z" fill="rgb(9,230,248)" stroke-width="1.30"/><path d="M434.6 239.4 L446.4 239.4 L451.5 243.2 L439.6 243.1Z" fill="rgb(12,226,249)" stroke-width="1.30"/><path d="M422.8 238.9 L434.6 239.4 L439.6 243.1 L427.8 242.6Z" fill="rgb(14,222,249)" stroke-width="1.30"/><path d="M411.0 238.1 L422.8 238.9 L427.8 242.6 L416.0 241.8Z" fill="rgb(20,216,250)" stroke-width="1.28"/><path d="M399.2 236.9 L411.0 238.1 L416.0 241.8 L404.2 240.6Z" fill="rgb(26,209,250)" stroke-width="1.22"/><path d="M387.4 235.5 L399.2 236.9 L404.2 240.6 L392.4 239.2Z" fill="rgb(33,202,250)" stroke-width="1.17"/><path d="M375.5 233.9 L387.4 235.5 L392.4 239.2 L380.6 237.6Z" fill="rgb(40,195,250)" stroke-width="1.12"/><path d="M363.7 232.0 L375.5 233.9 L380.6 237.6 L368.8 235.7Z" fill="rgb(46,184,249)" stroke-width="1.07"/><path d="M351.9 229.9 L363.7 232.0 L368.8 235.7 L356.9 233.5Z" fill="rgb(51,169,246)" stroke-width="1.02"/><path d="M340.1 227.5 L351.9 229.9 L356.9 233.5 L345.1 231.1Z" fill="rgb(57,153,244)" stroke-width="1.00"/><path d="M328.3 224.9 L340.1 227.5 L345.1 231.1 L333.3 228.5Z" fill="rgb(66,137,243)" stroke-width="1.00"/><path d="M316.5 222.0 L328.3 224.9 L333.3 228.5 L321.5 225.6Z" fill="rgb(76,120,242)" stroke-width="1.00"/><path d="M304.7 218.8 L316.5 222.0 L321.5 225.6 L309.7 222.4Z" fill="rgb(87,100,239)" stroke-width="1.00"/><path d="M292.9 215.3 L304.7 218.8 L309.7 222.4 L297.9 219.0Z" fill="rgb(98,84,235)" stroke-width="1.00"/><path d="M281.0 211.4 L292.9 215.3 L297.9 219.0 L286.0 215.1Z" fill="rgb(106,73,229)" stroke-width="1.00"/><path d="M269.2 207.3 L281.0 211.4 L286.0 215.1 L274.2 211.0Z" fill="rgb(105,65,216)" stroke-width="1.00"/><path d="M257.4 202.7 L269.2 207.3 L274.2 211.0 L262.4 206.5Z" fill="rgb(100,58,202)" stroke-width="1.00"/><path d="M245.6 197.9 L257.4 202.7 L262.4 206.5 L250.6 201.6Z" fill="rgb(71,38,141)" stroke-width="1.00"/><path d="M233.8 192.6 L245.6 197.9 L250.6 201.6 L238.8 196.3Z" fill="rgb(21,11,42)" stroke-width="1.00"/><path d="M222.0 187.0 L233.8 192.6 L238.8 196.3 L227.0 190.5Z" fill="rgb(8,4,17)" stroke-width="1.00"/><path d="M463.3 242.8 L475.1 241.9 L480.1 245.7 L468.3 246.6Z" fill="rgb(6,235,247)" stroke-width="1.30"/><path d="M451.5 243.2 L463.3 242.8 L468.3 246.6 L456.5 247.0Z" fill="rgb(8,232,247)" stroke-width="1.30"/><path d="M439.6 243.1 L451.5 243.2 L456.5 247.0 L444.7 246.9Z" fill="rgb(10,228,248)" stroke-width="1.30"/><path d="M427.8 242.6 L439.6 243.1 L444.7 246.9 L432.9 246.4Z" fill="rgb(13,224,249)" stroke-width="1.30"/><path d="M416.0 241.8 L427.8 242.6 L432.9 246.4 L421.0 245.6Z" fill="rgb(18,218,250)" stroke-width="1.30"/><path d="M404.2 240.6 L416.0 241.8 L421.0 245.6 L409.2 244.4Z" fill="rgb(24,211,250)" stroke-width="1.24"/><path d="M392.4 239.2 L404.2 240.6 L409.2 244.4 L397.4 243.0Z" fill="rgb(31,204,250)" stroke-width="1.18"/><path d="M380.6 237.6 L392.4 239.2 L397.4 243.0 L385.6 241.3Z" fill="rgb(38,197,250)" stroke-width="1.13"/><path d="M368.8 235.7 L380.6 237.6 L385.6 241.3 L373.8 239.4Z" fill="rgb(45,189,249)" stroke-width="1.09"/><path d="M356.9 233.5 L368.8 235.7 L373.8 239.4 L362.0 237.2Z" fill="rgb(50,173,247)" stroke-width="1.04"/><path d="M345.1 231.1 L356.9 233.5 L362.0 237.2 L350.1 234.8Z" fill="rgb(55,157,244)" stroke-width="1.00"/><path d="M333.3 228.5 L345.1 231.1 L350.1 234.8 L338.3 232.2Z" fill="rgb(64,141,243)" stroke-width="1.00"/><path d="M321.5 225.6 L333.3 228.5 L338.3 232.2 L326.5 229.3Z" fill="rgb(74,124,242)" stroke-width="1.00"/><path d="M309.7 222.4 L321.5 225.6 L326.5 229.3 L314.7 226.1Z" fill="rgb(85,105,240)" stroke-width="1.00"/><path d="M297.9 219.0 L309.7 222.4 L314.7 226.1 L302.9 222.7Z" fill="rgb(96,86,236)" stroke-width="1.00"/><path d="M286.0 215.1 L297.9 219.0 L302.9 222.7 L291.0 218.9Z" fill="rgb(104,76,230)" stroke-width="1.00"/><path d="M274.2 211.0 L286.0 215.1 L291.0 218.9 L279.2 214.8Z" fill="rgb(106,67,219)" stroke-width="1.00"/><path d="M262.4 206.5 L274.2 211.0 L279.2 214.8 L267.4 210.2Z" fill="rgb(102,59,205)" stroke-width="1.00"/><path d="M250.6 201.6 L262.4 206.5 L267.4 210.2 L255.6 205.3Z" fill="rgb(77,42,153)" stroke-width="1.00"/><path d="M238.8 196.3 L250.6 201.6 L255.6 205.3 L243.8 199.9Z" fill="rgb(25,13,50)" stroke-width="1.00"/><path d="M227.0 190.5 L238.8 196.3 L243.8 199.9 L231.9 194.1Z" fill="rgb(8,4,17)" stroke-width="1.00"/><path d="M468.3 246.6 L480.1 245.7 L485.2 249.5 L473.4 250.5Z" fill="rgb(5,237,246)" stroke-width="1.30"/><path d="M456.5 247.0 L468.3 246.6 L473.4 250.5 L461.5 250.9Z" fill="rgb(7,234,247)" stroke-width="1.30"/><path d="M444.7 246.9 L456.5 247.0 L461.5 250.9 L449.7 250.8Z" fill="rgb(9,230,248)" stroke-width="1.30"/><path d="M432.9 246.4 L444.7 246.9 L449.7 250.8 L437.9 250.3Z" fill="rgb(12,226,249)" stroke-width="1.30"/><path d="M421.0 245.6 L432.9 246.4 L437.9 250.3 L426.1 249.4Z" fill="rgb(15,221,250)" stroke-width="1.30"/><path d="M409.2 244.4 L421.0 245.6 L426.1 249.4 L414.3 248.2Z" fill="rgb(22,214,250)" stroke-width="1.26"/><path d="M397.4 243.0 L409.2 244.4 L414.3 248.2 L402.4 246.8Z" fill="rgb(28,207,250)" stroke-width="1.20"/><path d="M385.6 241.3 L397.4 243.0 L402.4 246.8 L390.6 245.1Z" fill="rgb(35,199,250)" stroke-width="1.15"/><path d="M373.8 239.4 L385.6 241.3 L390.6 245.1 L378.8 243.1Z" fill="rgb(43,191,250)" stroke-width="1.10"/><path d="M362.0 237.2 L373.8 239.4 L378.8 243.1 L367.0 241.0Z" fill="rgb(48,178,248)" stroke-width="1.06"/><path d="M350.1 234.8 L362.0 237.2 L367.0 241.0 L355.1 238.6Z" fill="rgb(53,162,245)" stroke-width="1.01"/><path d="M338.3 232.2 L350.1 234.8 L355.1 238.6 L343.3 235.9Z" fill="rgb(62,145,244)" stroke-width="1.00"/><path d="M326.5 229.3 L338.3 232.2 L343.3 235.9 L331.5 233.0Z" fill="rgb(71,128,242)" stroke-width="1.00"/><path d="M314.7 226.1 L326.5 229.3 L331.5 233.0 L319.7 229.9Z" fill="rgb(82,109,240)" stroke-width="1.00"/><path d="M302.9 222.7 L314.7 226.1 L319.7 229.9 L307.9 226.4Z" fill="rgb(94,89,238)" stroke-width="1.00"/><path d="M291.0 218.9 L302.9 222.7 L307.9 226.4 L296.0 222.7Z" fill="rgb(102,78,232)" stroke-width="1.00"/><path d="M279.2 214.8 L291.0 218.9 L296.0 222.7 L284.2 218.6Z" fill="rgb(106,68,222)" stroke-width="1.00"/><path d="M267.4 210.2 L279.2 214.8 L284.2 218.6 L272.4 214.0Z" fill="rgb(103,61,208)" stroke-width="1.00"/><path d="M255.6 205.3 L267.4 210.2 L272.4 214.0 L260.6 209.1Z" fill="rgb(84,46,167)" stroke-width="1.00"/><path d="M243.8 199.9 L255.6 205.3 L260.6 209.1 L248.8 203.7Z" fill="rgb(29,15,59)" stroke-width="1.00"/><path d="M231.9 194.1 L243.8 199.9 L248.8 203.7 L236.9 197.8Z" fill="rgb(8,4,17)" stroke-width="1.00"/><path d="M473.4 250.5 L485.2 249.5 L490.2 253.5 L478.4 254.4Z" fill="rgb(3,239,246)" stroke-width="1.30"/><path d="M461.5 250.9 L473.4 250.5 L478.4 254.4 L466.6 254.8Z" fill="rgb(5,236,246)" stroke-width="1.30"/><path d="M449.7 250.8 L461.5 250.9 L466.6 254.8 L454.7 254.7Z" fill="rgb(8,232,247)" stroke-width="1.30"/><path d="M437.9 250.3 L449.7 250.8 L454.7 254.7 L442.9 254.2Z" fill="rgb(11,228,248)" stroke-width="1.30"/><path d="M426.1 249.4 L437.9 250.3 L442.9 254.2 L431.1 253.3Z" fill="rgb(14,223,249)" stroke-width="1.30"/><path d="M414.3 248.2 L426.1 249.4 L431.1 253.3 L419.3 252.1Z" fill="rgb(19,217,250)" stroke-width="1.27"/><path d="M402.4 246.8 L414.3 248.2 L419.3 252.1 L407.5 250.6Z" fill="rgb(26,209,250)" stroke-width="1.22"/><path d="M390.6 245.1 L402.4 246.8 L407.5 250.6 L395.6 248.9Z" fill="rgb(33,202,250)" stroke-width="1.17"/><path d="M378.8 243.1 L390.6 245.1 L395.6 248.9 L383.8 246.9Z" fill="rgb(40,194,250)" stroke-width="1.12"/><path d="M367.0 241.0 L378.8 243.1 L383.8 246.9 L372.0 244.7Z" fill="rgb(47,182,248)" stroke-width="1.07"/><path d="M355.1 238.6 L367.0 241.0 L372.0 244.7 L360.2 242.3Z" fill="rgb(52,166,246)" stroke-width="1.03"/><path d="M343.3 235.9 L355.1 238.6 L360.2 242.3 L348.3 239.7Z" fill="rgb(59,150,244)" stroke-width="1.00"/><path d="M331.5 233.0 L343.3 235.9 L348.3 239.7 L336.5 236.8Z" fill="rgb(69,133,243)" stroke-width="1.00"/><path d="M319.7 229.9 L331.5 233.0 L336.5 236.8 L324.7 233.7Z" fill="rgb(79,114,241)" stroke-width="1.00"/><path d="M307.9 226.4 L319.7 229.9 L324.7 233.7 L312.9 230.3Z" fill="rgb(91,94,238)" stroke-width="1.00"/><path d="M296.0 222.7 L307.9 226.4 L312.9 230.3 L301.0 226.5Z" fill="rgb(100,80,233)" stroke-width="1.00"/><path d="M284.2 218.6 L296.0 222.7 L301.0 226.5 L289.2 222.4Z" fill="rgb(107,70,225)" stroke-width="1.00"/><path d="M272.4 214.0 L284.2 218.6 L289.2 222.4 L277.4 217.9Z" fill="rgb(104,62,211)" stroke-width="1.00"/><path d="M260.6 209.1 L272.4 214.0 L277.4 217.9 L265.6 212.9Z" fill="rgb(91,51,183)" stroke-width="1.00"/><path d="M248.8 203.7 L260.6 209.1 L265.6 212.9 L253.7 207.5Z" fill="rgb(34,18,68)" stroke-width="1.00"/><path d="M236.9 197.8 L248.8 203.7 L253.7 207.5 L241.9 201.4Z" fill="rgb(8,4,17)" stroke-width="1.00"/><path d="M478.4 254.4 L490.2 253.5 L495.3 257.5 L483.4 258.4Z" fill="rgb(2,241,245)" stroke-width="1.30"/><path d="M466.6 254.8 L478.4 254.4 L483.4 258.4 L471.6 258.8Z" fill="rgb(4,238,246)" stroke-width="1.30"/><path d="M454.7 254.7 L466.6 254.8 L471.6 258.8 L459.8 258.7Z" fill="rgb(6,234,247)" stroke-width="1.30"/><path d="M442.9 254.2 L454.7 254.7 L459.8 258.7 L448.0 258.1Z" fill="rgb(9,230,248)" stroke-width="1.30"/><path d="M431.1 253.3 L442.9 254.2 L448.0 258.1 L436.1 257.2Z" fill="rgb(12,225,249)" stroke-width="1.30"/><path d="M419.3 252.1 L431.1 253.3 L436.1 257.2 L424.3 256.0Z" fill="rgb(17,219,250)" stroke-width="1.29"/><path d="M407.5 250.6 L419.3 252.1 L424.3 256.0 L412.5 254.5Z" fill="rgb(23,212,250)" stroke-width="1.23"/><path d="M395.6 248.9 L407.5 250.6 L412.5 254.5 L400.7 252.8Z" fill="rgb(30,205,250)" stroke-width="1.18"/><path d="M383.8 246.9 L395.6 248.9 L400.7 252.8 L388.8 250.8Z" fill="rgb(38,197,250)" stroke-width="1.13"/><path d="M372.0 244.7 L383.8 246.9 L388.8 250.8 L377.0 248.6Z" fill="rgb(45,187,249)" stroke-width="1.09"/><path d="M360.2 242.3 L372.0 244.7 L377.0 248.6 L365.2 246.2Z" fill="rgb(50,171,247)" stroke-width="1.05"/><path d="M348.3 239.7 L360.2 242.3 L365.2 246.2 L353.3 243.5Z" fill="rgb(56,154,244)" stroke-width="1.01"/><path d="M336.5 236.8 L348.3 239.7 L353.3 243.5 L341.5 240.7Z" fill="rgb(66,137,243)" stroke-width="1.00"/><path d="M324.7 233.7 L336.5 236.8 L341.5 240.7 L329.7 237.5Z" fill="rgb(76,119,242)" stroke-width="1.00"/><path d="M312.9 230.3 L324.7 233.7 L329.7 237.5 L317.9 234.1Z" fill="rgb(88,99,239)" stroke-width="1.00"/><path d="M301.0 226.5 L312.9 230.3 L317.9 234.1 L306.0 230.4Z" fill="rgb(98,83,234)" stroke-width="1.00"/><path d="M289.2 222.4 L301.0 226.5 L306.0 230.4 L294.2 226.3Z" fill="rgb(107,72,228)" stroke-width="1.00"/><path d="M277.4 217.9 L289.2 222.4 L294.2 226.3 L282.4 221.8Z" fill="rgb(104,64,214)" stroke-width="1.00"/><path d="M265.6 212.9 L277.4 217.9 L282.4 221.8 L270.6 216.8Z" fill="rgb(99,56,199)" stroke-width="1.00"/><path d="M253.7 207.5 L265.6 212.9 L270.6 216.8 L258.7 211.3Z" fill="rgb(39,21,78)" stroke-width="1.00"/><path d="M241.9 201.4 L253.7 207.5 L258.7 211.3 L246.9 205.1Z" fill="rgb(8,4,17)" stroke-width="1.00"/><path d="M483.4 258.4 L495.3 257.5 L500.3 261.5 L488.5 262.5Z" fill="rgb(0,243,245)" stroke-width="1.30"/><path d="M471.6 258.8 L483.4 258.4 L488.5 262.5 L476.6 262.8Z" fill="rgb(2,240,245)" stroke-width="1.30"/><path d="M459.8 258.7 L471.6 258.8 L476.6 262.8 L464.8 262.7Z" fill="rgb(5,236,246)" stroke-width="1.30"/><path d="M448.0 258.1 L459.8 258.7 L464.8 262.7 L453.0 262.2Z" fill="rgb(8,232,247)" stroke-width="1.30"/><path d="M436.1 257.2 L448.0 258.1 L453.0 262.2 L441.2 261.2Z" fill="rgb(11,227,248)" stroke-width="1.30"/><path d="M424.3 256.0 L436.1 257.2 L441.2 261.2 L429.3 260.0Z" fill="rgb(14,222,249)" stroke-width="1.30"/><path d="M412.5 254.5 L424.3 256.0 L429.3 260.0 L417.5 258.5Z" fill="rgb(21,215,250)" stroke-width="1.25"/><path d="M400.7 252.8 L412.5 254.5 L417.5 258.5 L405.7 256.7Z" fill="rgb(28,207,250)" stroke-width="1.20"/><path d="M388.8 250.8 L400.7 252.8 L405.7 256.7 L393.8 254.7Z" fill="rgb(35,199,250)" stroke-width="1.15"/><path d="M377.0 248.6 L388.8 250.8 L393.8 254.7 L382.0 252.5Z" fill="rgb(43,191,250)" stroke-width="1.11"/><path d="M365.2 246.2 L377.0 248.6 L382.0 252.5 L370.2 250.1Z" fill="rgb(49,176,247)" stroke-width="1.07"/><path d="M353.3 243.5 L365.2 246.2 L370.2 250.1 L358.4 247.4Z" fill="rgb(54,159,245)" stroke-width="1.03"/><path d="M341.5 240.7 L353.3 243.5 L358.4 247.4 L346.5 244.6Z" fill="rgb(63,142,243)" stroke-width="1.00"/><path d="M329.7 237.5 L341.5 240.7 L346.5 244.6 L334.7 241.4Z" fill="rgb(74,124,242)" stroke-width="1.00"/><path d="M317.9 234.1 L329.7 237.5 L334.7 241.4 L322.9 238.0Z" fill="rgb(85,104,240)" stroke-width="1.00"/><path d="M306.0 230.4 L317.9 234.1 L322.9 238.0 L311.0 234.3Z" fill="rgb(96,85,236)" stroke-width="1.00"/><path d="M294.2 226.3 L306.0 230.4 L311.0 234.3 L299.2 230.2Z" fill="rgb(105,75,229)" stroke-width="1.00"/><path d="M282.4 221.8 L294.2 226.3 L299.2 230.2 L287.4 225.7Z" fill="rgb(105,66,217)" stroke-width="1.00"/><path d="M270.6 216.8 L282.4 221.8 L287.4 225.7 L275.6 220.7Z" fill="rgb(101,58,202)" stroke-width="1.00"/><path d="M258.7 211.3 L270.6 216.8 L275.6 220.7 L263.7 215.1Z" fill="rgb(45,24,89)" stroke-width="1.00"/><path d="M246.9 205.1 L258.7 211.3 L263.7 215.1 L251.9 208.9Z" fill="rgb(9,4,18)" stroke-width="1.00"/></g>
<line x1="88.3" y1="252.7" x2="88.3" y2="68.1" stroke="#111" stroke-width="1.5" />
<line x1="88.3" y1="252.7" x2="277.7" y2="337.5" stroke="#111" stroke-width="1.4" />
<line x1="277.7" y1="337.5" x2="523.6" y2="272.3" stroke="#111" stroke-width="1.4" />
<line x1="88.3" y1="252.7" x2="82.5" y2="250.1" stroke="#111" stroke-width="1.2" />
<line x1="88.3" y1="206.5" x2="82.5" y2="203.9" stroke="#111" stroke-width="1.2" />
<line x1="88.3" y1="160.4" x2="82.5" y2="157.8" stroke="#111" stroke-width="1.2" />
<line x1="88.3" y1="114.2" x2="82.5" y2="111.6" stroke="#111" stroke-width="1.2" />
<line x1="88.3" y1="68.1" x2="82.5" y2="65.5" stroke="#111" stroke-width="1.2" />
<line x1="277.7" y1="337.5" x2="271.1" y2="339.2" stroke="#111" stroke-width="1.2" />
<line x1="230.3" y1="316.3" x2="223.8" y2="318.0" stroke="#111" stroke-width="1.2" />
<line x1="183.0" y1="295.1" x2="176.4" y2="296.8" stroke="#111" stroke-width="1.2" />
<line x1="135.6" y1="273.9" x2="129.1" y2="275.6" stroke="#111" stroke-width="1.2" />
<line x1="88.3" y1="252.7" x2="81.7" y2="254.4" stroke="#111" stroke-width="1.2" />
<line x1="277.7" y1="337.5" x2="283.5" y2="340.1" stroke="#111" stroke-width="1.2" />
<line x1="339.2" y1="321.2" x2="345.0" y2="323.8" stroke="#111" stroke-width="1.2" />
<line x1="400.6" y1="304.9" x2="406.5" y2="307.5" stroke="#111" stroke-width="1.2" />
<line x1="462.1" y1="288.6" x2="468.0" y2="291.2" stroke="#111" stroke-width="1.2" />
<line x1="523.6" y1="272.3" x2="529.4" y2="274.9" stroke="#111" stroke-width="1.2" />
<text x="80.0" y="72.3" text-anchor="end" font-size="20.5" >3.5</text>
<text x="81.0" y="118.4" text-anchor="end" font-size="20.5" >3</text>
<text x="84.7" y="163.8" text-anchor="end" font-size="20.5" >2.5</text>
<text x="81.3" y="209.2" text-anchor="end" font-size="20.5" >2</text>
<text x="80.8" y="254.6" text-anchor="end" font-size="20.5" >1.5</text>
<text x="65.0" y="271.6" text-anchor="start" font-size="20.5" >120</text>
<text x="101.5" y="292.7" text-anchor="start" font-size="20.5" >100</text>
<text x="151.3" y="313.1" text-anchor="start" font-size="20.5" >80</text>
<text x="198.8" y="335.2" text-anchor="start" font-size="20.5" >60</text>
<text x="251.5" y="355" text-anchor="start" font-size="20.5" >40</text>
<text x="291.8" y="357.3" text-anchor="start" font-size="20.5" >0.2</text>
<text x="348.3" y="341" text-anchor="start" font-size="20.5" >0.4</text>
<text x="409.5" y="323.7" text-anchor="start" font-size="20.5" >0.6</text>
<text x="470" y="307.9" text-anchor="start" font-size="20.5" >0.8</text>
<text x="534.5" y="292.5" text-anchor="start" font-size="20.5" >1</text>
<text x="6.2" y="165.8" font-size="24"><tspan font-style="italic">t</tspan><tspan font-style="italic" font-size="14.5" dx="1" dy="6">f</tspan><tspan dy="-6" dx="7.6" font-size="20.5">(s)</tspan></text>
<text y="360" font-size="20.5"><tspan x="80.2">Speed</tspan><tspan x="135.2" textLength="33.2">(km</tspan><tspan x="171.6">·</tspan><tspan x="180.4">h</tspan><tspan x="191.0" y="346.6" font-size="9">−1</tspan><tspan x="200.2" y="360">)</tspan></text>
<text x="387.7" y="347.1" text-anchor="start" font-size="20.5" textLength="155.5">Tire-road adhesion</text>
<text x="421.2" y="371.6" text-anchor="start" font-size="20.5" textLength="87.4">coefficient</text>
</svg></body></html>
